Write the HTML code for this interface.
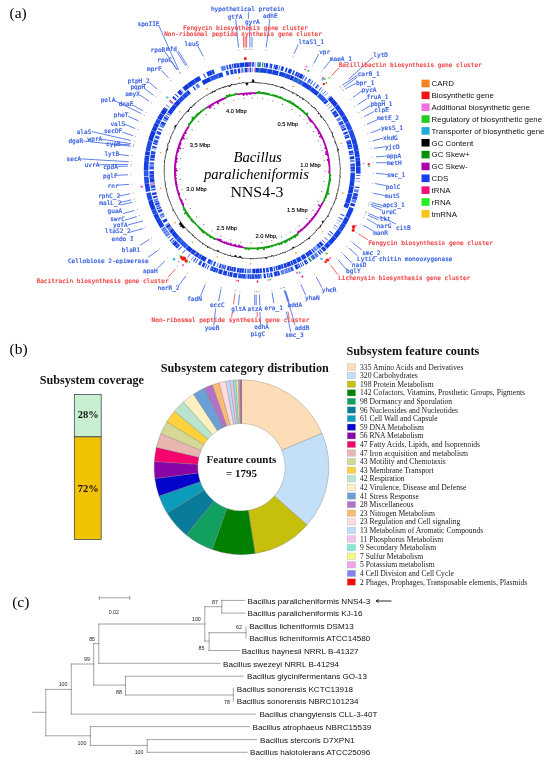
<!DOCTYPE html>
<html lang="en"><head><meta charset="utf-8"><title>Bacillus paralicheniformis NNS4-3 genome figure</title>
<style>
html,body{margin:0;padding:0;background:#fff}
svg{display:block}
.m{font-family:"DejaVu Sans Mono","Liberation Mono",monospace;font-size:6.1px;stroke-width:0.18px}
.s{font-family:"Liberation Sans",sans-serif}
.r{font-family:"Liberation Serif",serif}
.rb{font-family:"Liberation Serif",serif;font-weight:bold}
.ri{font-family:"Liberation Serif",serif;font-style:italic}
</style></head><body>
<svg width="550" height="761" viewBox="0 0 550 761">
<rect width="550" height="761" fill="#fff"/>
<text class="r" x="9.5" y="18" font-size="15.5">(a)</text>
<g>
<path d="M252.20 62.10A108.4 108.4 0 0 1 253.88 62.11L253.80 66.71A103.8 103.8 0 0 0 252.20 66.70Z" fill="#1641e2"/>
<path d="M254.57 62.13A108.4 108.4 0 0 1 255.59 62.15L255.45 66.75A103.8 103.8 0 0 0 254.47 66.72Z" fill="#5d84f2"/>
<path d="M257.18 62.21A108.4 108.4 0 0 1 259.17 62.32L258.87 66.91A103.8 103.8 0 0 0 256.97 66.81Z" fill="#5d84f2"/>
<path d="M259.41 62.34A108.4 108.4 0 0 1 260.80 62.44L260.43 67.03A103.8 103.8 0 0 0 259.11 66.93Z" fill="#1238d8"/>
<path d="M262.48 62.59A108.4 108.4 0 0 1 263.37 62.68L262.90 67.25A103.8 103.8 0 0 0 262.04 67.17Z" fill="#1641e2"/>
<path d="M264.20 62.77A108.4 108.4 0 0 1 265.36 62.90L264.80 67.47A103.8 103.8 0 0 0 263.69 67.34Z" fill="#2a58ea"/>
<path d="M265.98 62.98A108.4 108.4 0 0 1 268.37 63.31L267.68 67.86A103.8 103.8 0 0 0 265.40 67.54Z" fill="#1238d8"/>
<path d="M270.05 63.58A108.4 108.4 0 0 1 271.02 63.75L270.22 68.28A103.8 103.8 0 0 0 269.29 68.12Z" fill="#1238d8"/>
<path d="M271.02 63.75A108.4 108.4 0 0 1 272.64 64.05L271.78 68.56A103.8 103.8 0 0 0 270.22 68.28Z" fill="#1641e2"/>
<path d="M274.21 64.36A108.4 108.4 0 0 1 275.45 64.62L274.46 69.12A103.8 103.8 0 0 0 273.28 68.86Z" fill="#1f4be6"/>
<path d="M275.66 64.67A108.4 108.4 0 0 1 278.42 65.32L277.30 69.78A103.8 103.8 0 0 0 274.67 69.16Z" fill="#1641e2"/>
<path d="M279.36 65.56A108.4 108.4 0 0 1 280.55 65.87L279.34 70.31A103.8 103.8 0 0 0 278.21 70.01Z" fill="#5d84f2"/>
<path d="M281.60 66.16A108.4 108.4 0 0 1 284.14 66.91L282.79 71.31A103.8 103.8 0 0 0 280.35 70.59Z" fill="#1641e2"/>
<path d="M286.02 67.51A108.4 108.4 0 0 1 287.68 68.07L286.17 72.42A103.8 103.8 0 0 0 284.58 71.88Z" fill="#1641e2"/>
<path d="M289.01 68.54A108.4 108.4 0 0 1 292.22 69.76L290.53 74.03A103.8 103.8 0 0 0 287.45 72.87Z" fill="#1641e2"/>
<path d="M293.49 70.27A108.4 108.4 0 0 1 295.00 70.91L293.18 75.13A103.8 103.8 0 0 0 291.74 74.52Z" fill="#1f4be6"/>
<path d="M296.44 71.54A108.4 108.4 0 0 1 298.13 72.31L296.18 76.48A103.8 103.8 0 0 0 294.57 75.74Z" fill="#1641e2"/>
<path d="M298.36 72.42A108.4 108.4 0 0 1 300.30 73.36L298.26 77.48A103.8 103.8 0 0 0 296.40 76.58Z" fill="#1f4be6"/>
<path d="M300.59 73.50A108.4 108.4 0 0 1 303.46 74.98L301.28 79.04A103.8 103.8 0 0 0 298.54 77.62Z" fill="#1238d8"/>
<path d="M303.94 75.24A108.4 108.4 0 0 1 304.94 75.80L302.70 79.81A103.8 103.8 0 0 0 301.74 79.29Z" fill="#2a58ea"/>
<path d="M306.05 76.42A108.4 108.4 0 0 1 307.58 77.32L305.23 81.27A103.8 103.8 0 0 0 303.77 80.41Z" fill="#5d84f2"/>
<path d="M309.48 78.47A108.4 108.4 0 0 1 310.48 79.10L308.01 82.98A103.8 103.8 0 0 0 307.05 82.37Z" fill="#1641e2"/>
<path d="M310.77 79.29A108.4 108.4 0 0 1 311.41 79.70L308.90 83.56A103.8 103.8 0 0 0 308.28 83.16Z" fill="#1238d8"/>
<path d="M312.46 80.39A108.4 108.4 0 0 1 313.38 81.01L310.78 84.81A103.8 103.8 0 0 0 309.90 84.22Z" fill="#2a58ea"/>
<path d="M315.16 82.26A108.4 108.4 0 0 1 315.89 82.79L313.19 86.51A103.8 103.8 0 0 0 312.48 86.00Z" fill="#2a58ea"/>
<path d="M317.70 84.13A108.4 108.4 0 0 1 318.94 85.08L316.11 88.70A103.8 103.8 0 0 0 314.92 87.79Z" fill="#1641e2"/>
<path d="M319.48 85.50A108.4 108.4 0 0 1 319.70 85.68L316.84 89.28A103.8 103.8 0 0 0 316.62 89.11Z" fill="#1641e2"/>
<path d="M321.36 87.03A108.4 108.4 0 0 1 321.98 87.55L319.02 91.07A103.8 103.8 0 0 0 318.43 90.57Z" fill="#1641e2"/>
<path d="M323.36 88.72A108.4 108.4 0 0 1 323.66 88.99L320.63 92.45A103.8 103.8 0 0 0 320.34 92.19Z" fill="#1641e2"/>
<path d="M325.57 90.71A108.4 108.4 0 0 1 326.08 91.17L322.94 94.54A103.8 103.8 0 0 0 322.46 94.09Z" fill="#1f4be6"/>
<path d="M327.52 92.54A108.4 108.4 0 0 1 328.01 93.02L324.79 96.31A103.8 103.8 0 0 0 324.33 95.85Z" fill="#5d84f2"/>
<path d="M330.49 95.53A108.4 108.4 0 0 1 330.83 95.88L327.49 99.05A103.8 103.8 0 0 0 327.17 98.71Z" fill="#1f4be6"/>
<path d="M331.22 96.30A108.4 108.4 0 0 1 334.04 99.42L330.57 102.44A103.8 103.8 0 0 0 327.87 99.44Z" fill="#1238d8"/>
<path d="M334.11 99.49A108.4 108.4 0 0 1 337.86 104.07L334.22 106.89A103.8 103.8 0 0 0 330.63 102.51Z" fill="#1238d8"/>
<path d="M338.07 104.34A108.4 108.4 0 0 1 341.24 108.67L337.46 111.30A103.8 103.8 0 0 0 334.42 107.14Z" fill="#1641e2"/>
<path d="M341.29 108.75A108.4 108.4 0 0 1 345.22 114.85L341.28 117.21A103.8 103.8 0 0 0 337.51 111.37Z" fill="#1641e2"/>
<path d="M345.29 114.96A108.4 108.4 0 0 1 348.85 121.41L344.75 123.50A103.8 103.8 0 0 0 341.34 117.32Z" fill="#1641e2"/>
<path d="M349.00 121.72A108.4 108.4 0 0 1 352.36 129.04L348.11 130.80A103.8 103.8 0 0 0 344.90 123.79Z" fill="#1f4be6"/>
<path d="M352.41 129.17A108.4 108.4 0 0 1 355.53 137.75L351.15 139.14A103.8 103.8 0 0 0 348.16 130.92Z" fill="#1f4be6"/>
<path d="M355.57 137.87A108.4 108.4 0 0 1 357.19 143.51L352.73 144.66A103.8 103.8 0 0 0 351.19 139.26Z" fill="#1641e2"/>
<path d="M357.21 143.60A108.4 108.4 0 0 1 358.70 150.30L354.18 151.16A103.8 103.8 0 0 0 352.75 144.75Z" fill="#1641e2"/>
<path d="M358.73 150.43A108.4 108.4 0 0 1 359.76 156.99L355.19 157.57A103.8 103.8 0 0 0 354.21 151.28Z" fill="#1641e2"/>
<path d="M359.78 157.16A108.4 108.4 0 0 1 360.15 160.66L355.57 161.08A103.8 103.8 0 0 0 355.21 157.73Z" fill="#1641e2"/>
<path d="M360.16 160.76A108.4 108.4 0 0 1 360.52 166.46L355.93 166.63A103.8 103.8 0 0 0 355.58 161.17Z" fill="#1238d8"/>
<path d="M360.53 166.69A108.4 108.4 0 0 1 360.55 173.72L355.95 173.58A103.8 103.8 0 0 0 355.94 166.85Z" fill="#1641e2"/>
<path d="M360.50 175.16A108.4 108.4 0 0 1 360.46 176.05L355.86 175.82A103.8 103.8 0 0 0 355.90 174.97Z" fill="#1641e2"/>
<path d="M360.31 178.39A108.4 108.4 0 0 1 360.25 179.21L355.66 178.84A103.8 103.8 0 0 0 355.72 178.06Z" fill="#2a58ea"/>
<path d="M360.08 181.08A108.4 108.4 0 0 1 360.02 181.70L355.44 181.23A103.8 103.8 0 0 0 355.50 180.63Z" fill="#5d84f2"/>
<path d="M359.32 187.11A108.4 108.4 0 0 1 359.14 188.23L354.60 187.48A103.8 103.8 0 0 0 354.77 186.41Z" fill="#1238d8"/>
<path d="M358.86 189.83A108.4 108.4 0 0 1 358.82 190.07L354.29 189.24A103.8 103.8 0 0 0 354.34 189.01Z" fill="#1238d8"/>
<path d="M358.82 190.07A108.4 108.4 0 0 1 358.31 192.64L353.81 191.70A103.8 103.8 0 0 0 354.29 189.24Z" fill="#5d84f2"/>
<path d="M358.08 193.72A108.4 108.4 0 0 1 357.39 196.67L352.93 195.56A103.8 103.8 0 0 0 353.59 192.74Z" fill="#1641e2"/>
<path d="M357.32 196.98A108.4 108.4 0 0 1 356.48 200.10L352.05 198.85A103.8 103.8 0 0 0 352.85 195.86Z" fill="#1641e2"/>
<path d="M356.42 200.30A108.4 108.4 0 0 1 355.58 203.10L351.19 201.72A103.8 103.8 0 0 0 352.00 199.04Z" fill="#5d84f2"/>
<path d="M355.26 204.11A108.4 108.4 0 0 1 354.34 206.81L350.00 205.27A103.8 103.8 0 0 0 350.88 202.68Z" fill="#1238d8"/>
<path d="M353.74 208.46A108.4 108.4 0 0 1 349.52 218.24L345.39 216.21A103.8 103.8 0 0 0 349.43 206.85Z" fill="#1641e2"/>
<path d="M349.37 218.55A108.4 108.4 0 0 1 345.92 224.97L341.94 222.66A103.8 103.8 0 0 0 345.25 216.51Z" fill="#1641e2"/>
<path d="M345.87 225.05A108.4 108.4 0 0 1 341.58 231.83L337.79 229.22A103.8 103.8 0 0 0 341.90 222.74Z" fill="#1f4be6"/>
<path d="M341.51 231.94A108.4 108.4 0 0 1 336.67 238.44L333.08 235.56A103.8 103.8 0 0 0 337.72 229.33Z" fill="#1641e2"/>
<path d="M336.61 238.51A108.4 108.4 0 0 1 330.92 245.02L327.58 241.86A103.8 103.8 0 0 0 333.03 235.63Z" fill="#1641e2"/>
<path d="M330.69 245.27A108.4 108.4 0 0 1 327.50 248.48L324.31 245.17A103.8 103.8 0 0 0 327.36 242.10Z" fill="#1641e2"/>
<path d="M327.50 248.48A108.4 108.4 0 0 1 326.87 249.08L323.70 245.75A103.8 103.8 0 0 0 324.31 245.17Z" fill="#1641e2"/>
<path d="M326.45 249.48A108.4 108.4 0 0 1 323.97 251.74L320.93 248.29A103.8 103.8 0 0 0 323.29 246.13Z" fill="#1238d8"/>
<path d="M322.99 252.59A108.4 108.4 0 0 1 321.99 253.45L319.02 249.93A103.8 103.8 0 0 0 319.99 249.11Z" fill="#1f4be6"/>
<path d="M321.25 254.06A108.4 108.4 0 0 1 320.12 254.98L317.24 251.40A103.8 103.8 0 0 0 318.32 250.52Z" fill="#1641e2"/>
<path d="M318.97 255.89A108.4 108.4 0 0 1 316.35 257.88L313.63 254.17A103.8 103.8 0 0 0 316.14 252.27Z" fill="#5d84f2"/>
<path d="M315.70 258.35A108.4 108.4 0 0 1 314.06 259.52L311.44 255.74A103.8 103.8 0 0 0 313.01 254.62Z" fill="#2a58ea"/>
<path d="M313.92 259.61A108.4 108.4 0 0 1 313.01 260.24L310.43 256.43A103.8 103.8 0 0 0 311.30 255.83Z" fill="#2a58ea"/>
<path d="M311.35 261.34A108.4 108.4 0 0 1 310.37 261.97L307.90 258.09A103.8 103.8 0 0 0 308.84 257.49Z" fill="#1641e2"/>
<path d="M308.49 263.14A108.4 108.4 0 0 1 307.61 263.67L305.26 259.71A103.8 103.8 0 0 0 306.10 259.21Z" fill="#1641e2"/>
<path d="M307.35 263.82A108.4 108.4 0 0 1 305.64 264.81L303.37 260.81A103.8 103.8 0 0 0 305.01 259.86Z" fill="#1641e2"/>
<path d="M304.37 265.52A108.4 108.4 0 0 1 303.47 266.01L301.30 261.95A103.8 103.8 0 0 0 302.16 261.49Z" fill="#1f4be6"/>
<path d="M302.47 266.54A108.4 108.4 0 0 1 301.75 266.91L299.65 262.82A103.8 103.8 0 0 0 300.33 262.46Z" fill="#1238d8"/>
<path d="M300.80 267.40A108.4 108.4 0 0 1 299.83 267.87L297.81 263.74A103.8 103.8 0 0 0 298.74 263.28Z" fill="#1641e2"/>
<path d="M299.52 268.03A108.4 108.4 0 0 1 298.73 268.40L296.76 264.25A103.8 103.8 0 0 0 297.51 263.89Z" fill="#1f4be6"/>
<path d="M298.57 268.48A108.4 108.4 0 0 1 296.14 269.60L294.27 265.39A103.8 103.8 0 0 0 296.60 264.32Z" fill="#1238d8"/>
<path d="M293.98 270.52A108.4 108.4 0 0 1 291.78 271.42L290.10 267.13A103.8 103.8 0 0 0 292.21 266.28Z" fill="#2a58ea"/>
<path d="M291.63 271.48A108.4 108.4 0 0 1 288.54 272.63L287.00 268.29A103.8 103.8 0 0 0 289.95 267.19Z" fill="#5d84f2"/>
<path d="M288.38 272.69A108.4 108.4 0 0 1 285.36 273.70L283.95 269.32A103.8 103.8 0 0 0 286.84 268.35Z" fill="#5d84f2"/>
<path d="M284.86 273.86A108.4 108.4 0 0 1 281.44 274.88L280.19 270.45A103.8 103.8 0 0 0 283.48 269.48Z" fill="#5d84f2"/>
<path d="M280.23 275.21A108.4 108.4 0 0 1 278.05 275.77L276.95 271.31A103.8 103.8 0 0 0 279.04 270.77Z" fill="#1641e2"/>
<path d="M277.87 275.82A108.4 108.4 0 0 1 274.55 276.57L273.60 272.07A103.8 103.8 0 0 0 276.78 271.35Z" fill="#1641e2"/>
<path d="M272.90 276.91A108.4 108.4 0 0 1 270.76 277.30L269.97 272.77A103.8 103.8 0 0 0 272.02 272.39Z" fill="#1641e2"/>
<path d="M270.02 277.43A108.4 108.4 0 0 1 269.17 277.56L268.45 273.02A103.8 103.8 0 0 0 269.26 272.89Z" fill="#1641e2"/>
<path d="M268.76 277.63A108.4 108.4 0 0 1 267.32 277.84L266.68 273.29A103.8 103.8 0 0 0 268.05 273.08Z" fill="#2a58ea"/>
<path d="M266.02 278.02A108.4 108.4 0 0 1 263.88 278.27L263.38 273.70A103.8 103.8 0 0 0 265.44 273.45Z" fill="#1238d8"/>
<path d="M261.77 278.48A108.4 108.4 0 0 1 260.41 278.59L260.06 274.00A103.8 103.8 0 0 0 261.36 273.89Z" fill="#2a58ea"/>
<path d="M260.06 278.61A108.4 108.4 0 0 1 258.16 278.74L257.90 274.14A103.8 103.8 0 0 0 259.72 274.03Z" fill="#1641e2"/>
<path d="M257.97 278.75A108.4 108.4 0 0 1 254.72 278.87L254.62 274.27A103.8 103.8 0 0 0 257.73 274.15Z" fill="#1f4be6"/>
<path d="M254.42 278.88A108.4 108.4 0 0 1 251.76 278.90L251.78 274.30A103.8 103.8 0 0 0 254.33 274.28Z" fill="#1f4be6"/>
<path d="M251.54 278.90A108.4 108.4 0 0 1 250.02 278.88L250.12 274.28A103.8 103.8 0 0 0 251.57 274.30Z" fill="#1641e2"/>
<path d="M249.64 278.87A108.4 108.4 0 0 1 247.33 278.79L247.54 274.20A103.8 103.8 0 0 0 249.75 274.27Z" fill="#1641e2"/>
<path d="M246.44 278.75A108.4 108.4 0 0 1 245.17 278.67L245.47 274.08A103.8 103.8 0 0 0 246.69 274.15Z" fill="#2a58ea"/>
<path d="M244.96 278.66A108.4 108.4 0 0 1 242.77 278.49L243.17 273.91A103.8 103.8 0 0 0 245.26 274.07Z" fill="#1f4be6"/>
<path d="M242.60 278.47A108.4 108.4 0 0 1 240.87 278.31L241.35 273.73A103.8 103.8 0 0 0 243.01 273.89Z" fill="#1641e2"/>
<path d="M240.87 278.31A108.4 108.4 0 0 1 237.75 277.93L238.37 273.37A103.8 103.8 0 0 0 241.35 273.73Z" fill="#2a58ea"/>
<path d="M236.85 277.81A108.4 108.4 0 0 1 232.81 277.15L233.63 272.63A103.8 103.8 0 0 0 237.51 273.25Z" fill="#1641e2"/>
<path d="M232.05 277.01A108.4 108.4 0 0 1 229.10 276.41L230.08 271.92A103.8 103.8 0 0 0 232.90 272.49Z" fill="#1238d8"/>
<path d="M228.63 276.31A108.4 108.4 0 0 1 227.36 276.02L228.42 271.54A103.8 103.8 0 0 0 229.63 271.82Z" fill="#1238d8"/>
<path d="M226.40 275.79A108.4 108.4 0 0 1 222.62 274.79L223.88 270.36A103.8 103.8 0 0 0 227.50 271.32Z" fill="#1641e2"/>
<path d="M221.70 274.52A108.4 108.4 0 0 1 217.89 273.33L219.35 268.96A103.8 103.8 0 0 0 222.99 270.11Z" fill="#1641e2"/>
<path d="M217.19 273.09A108.4 108.4 0 0 1 215.13 272.36L216.70 268.04A103.8 103.8 0 0 0 218.68 268.74Z" fill="#2a58ea"/>
<path d="M215.13 272.36A108.4 108.4 0 0 1 212.71 271.45L214.39 267.17A103.8 103.8 0 0 0 216.70 268.04Z" fill="#1641e2"/>
<path d="M212.43 271.34A108.4 108.4 0 0 1 210.55 270.58L212.31 266.33A103.8 103.8 0 0 0 214.12 267.06Z" fill="#1641e2"/>
<path d="M210.30 270.47A108.4 108.4 0 0 1 209.59 270.17L211.40 265.94A103.8 103.8 0 0 0 212.07 266.23Z" fill="#1238d8"/>
<path d="M207.72 269.36A108.4 108.4 0 0 1 206.80 268.93L208.72 264.76A103.8 103.8 0 0 0 209.61 265.16Z" fill="#1f4be6"/>
<path d="M205.46 268.31A108.4 108.4 0 0 1 204.59 267.89L206.61 263.75A103.8 103.8 0 0 0 207.45 264.16Z" fill="#1641e2"/>
<path d="M203.76 267.47A108.4 108.4 0 0 1 201.44 266.28L203.60 262.22A103.8 103.8 0 0 0 205.81 263.36Z" fill="#1641e2"/>
<path d="M200.27 265.65A108.4 108.4 0 0 1 197.92 264.33L200.22 260.35A103.8 103.8 0 0 0 202.47 261.61Z" fill="#2a58ea"/>
<path d="M195.94 263.16A108.4 108.4 0 0 1 195.29 262.76L197.70 258.84A103.8 103.8 0 0 0 198.33 259.23Z" fill="#1641e2"/>
<path d="M193.96 261.93A108.4 108.4 0 0 1 193.02 261.32L195.54 257.47A103.8 103.8 0 0 0 196.43 258.05Z" fill="#1641e2"/>
<path d="M191.42 260.26A108.4 108.4 0 0 1 190.98 259.96L193.58 256.16A103.8 103.8 0 0 0 194.00 256.45Z" fill="#1f4be6"/>
<path d="M187.99 257.84A108.4 108.4 0 0 1 187.24 257.28L190.00 253.60A103.8 103.8 0 0 0 190.72 254.13Z" fill="#5d84f2"/>
<path d="M182.81 253.78A108.4 108.4 0 0 1 181.95 253.06L184.94 249.56A103.8 103.8 0 0 0 185.75 250.24Z" fill="#5d84f2"/>
<path d="M178.83 250.29A108.4 108.4 0 0 1 178.11 249.63L181.26 246.27A103.8 103.8 0 0 0 181.94 246.91Z" fill="#1641e2"/>
<path d="M177.07 248.64A108.4 108.4 0 0 1 174.69 246.28L177.98 243.06A103.8 103.8 0 0 0 180.26 245.33Z" fill="#2a58ea"/>
<path d="M174.57 246.16A108.4 108.4 0 0 1 172.19 243.64L175.59 240.54A103.8 103.8 0 0 0 177.86 242.95Z" fill="#1238d8"/>
<path d="M171.75 243.16A108.4 108.4 0 0 1 171.04 242.35L174.48 239.30A103.8 103.8 0 0 0 175.17 240.07Z" fill="#1f4be6"/>
<path d="M170.29 241.50A108.4 108.4 0 0 1 169.50 240.58L173.01 237.61A103.8 103.8 0 0 0 173.76 238.48Z" fill="#1f4be6"/>
<path d="M168.00 238.77A108.4 108.4 0 0 1 167.27 237.87L170.88 235.01A103.8 103.8 0 0 0 171.57 235.87Z" fill="#5d84f2"/>
<path d="M166.60 237.00A108.4 108.4 0 0 1 164.86 234.70L168.56 231.98A103.8 103.8 0 0 0 170.23 234.18Z" fill="#5d84f2"/>
<path d="M164.64 234.41A108.4 108.4 0 0 1 162.99 232.08L166.78 229.47A103.8 103.8 0 0 0 168.36 231.70Z" fill="#5d84f2"/>
<path d="M162.85 231.88A108.4 108.4 0 0 1 160.98 229.06L164.85 226.58A103.8 103.8 0 0 0 166.65 229.28Z" fill="#5d84f2"/>
<path d="M160.47 228.26A108.4 108.4 0 0 1 155.57 219.62L159.67 217.53A103.8 103.8 0 0 0 164.37 225.81Z" fill="#1641e2"/>
<path d="M155.49 219.47A108.4 108.4 0 0 1 153.35 214.99L157.55 213.10A103.8 103.8 0 0 0 159.59 217.39Z" fill="#1641e2"/>
<path d="M153.28 214.84A108.4 108.4 0 0 1 151.54 210.73L155.81 209.03A103.8 103.8 0 0 0 157.48 212.95Z" fill="#1f4be6"/>
<path d="M151.48 210.58A108.4 108.4 0 0 1 148.11 200.78L152.53 199.49A103.8 103.8 0 0 0 155.75 208.88Z" fill="#1238d8"/>
<path d="M148.05 200.56A108.4 108.4 0 0 1 146.22 193.27L150.72 192.31A103.8 103.8 0 0 0 152.47 199.28Z" fill="#1f4be6"/>
<path d="M145.95 191.99A108.4 108.4 0 0 1 144.65 184.02L149.21 183.45A103.8 103.8 0 0 0 150.46 191.08Z" fill="#1641e2"/>
<path d="M144.63 183.89A108.4 108.4 0 0 1 143.99 176.95L148.58 176.68A103.8 103.8 0 0 0 149.20 183.32Z" fill="#1f4be6"/>
<path d="M143.97 176.61A108.4 108.4 0 0 1 143.80 170.24L148.40 170.26A103.8 103.8 0 0 0 148.57 176.35Z" fill="#2a58ea"/>
<path d="M143.80 170.07A108.4 108.4 0 0 1 144.22 160.96L148.80 161.36A103.8 103.8 0 0 0 148.40 170.09Z" fill="#1641e2"/>
<path d="M144.24 160.79A108.4 108.4 0 0 1 144.85 155.43L149.41 156.07A103.8 103.8 0 0 0 148.82 161.20Z" fill="#1641e2"/>
<path d="M144.90 155.09A108.4 108.4 0 0 1 145.59 150.88L150.11 151.72A103.8 103.8 0 0 0 149.45 155.74Z" fill="#1238d8"/>
<path d="M145.61 150.75A108.4 108.4 0 0 1 148.04 140.49L152.46 141.76A103.8 103.8 0 0 0 150.14 151.59Z" fill="#1f4be6"/>
<path d="M148.10 140.27A108.4 108.4 0 0 1 151.53 130.29L155.80 132.00A103.8 103.8 0 0 0 152.52 141.55Z" fill="#1238d8"/>
<path d="M151.62 130.08A108.4 108.4 0 0 1 153.37 125.97L157.56 127.86A103.8 103.8 0 0 0 155.88 131.80Z" fill="#1238d8"/>
<path d="M153.41 125.88A108.4 108.4 0 0 1 154.95 122.61L159.08 124.64A103.8 103.8 0 0 0 157.60 127.77Z" fill="#1238d8"/>
<path d="M155.01 122.49A108.4 108.4 0 0 1 157.11 118.45L161.15 120.66A103.8 103.8 0 0 0 159.13 124.53Z" fill="#1f4be6"/>
<path d="M157.16 118.37A108.4 108.4 0 0 1 160.24 113.11L164.14 115.54A103.8 103.8 0 0 0 161.19 120.58Z" fill="#1641e2"/>
<path d="M160.42 112.82A108.4 108.4 0 0 1 163.59 108.06L167.35 110.71A103.8 103.8 0 0 0 164.32 115.27Z" fill="#1238d8"/>
<path d="M163.64 107.98A108.4 108.4 0 0 1 164.28 107.09L168.01 109.78A103.8 103.8 0 0 0 167.40 110.63Z" fill="#1238d8"/>
<path d="M165.83 105.00A108.4 108.4 0 0 1 166.20 104.51L169.85 107.31A103.8 103.8 0 0 0 169.49 107.78Z" fill="#1f4be6"/>
<path d="M168.82 101.23A108.4 108.4 0 0 1 169.47 100.46L172.98 103.43A103.8 103.8 0 0 0 172.36 104.17Z" fill="#5d84f2"/>
<path d="M172.15 97.41A108.4 108.4 0 0 1 173.49 95.97L176.83 99.13A103.8 103.8 0 0 0 175.55 100.51Z" fill="#1238d8"/>
<path d="M174.85 94.55A108.4 108.4 0 0 1 175.53 93.87L178.79 97.12A103.8 103.8 0 0 0 178.14 97.77Z" fill="#1238d8"/>
<path d="M177.19 92.25A108.4 108.4 0 0 1 179.76 89.86L182.84 93.28A103.8 103.8 0 0 0 180.37 95.57Z" fill="#1238d8"/>
<path d="M179.90 89.73A108.4 108.4 0 0 1 180.70 89.02L183.73 92.48A103.8 103.8 0 0 0 182.97 93.16Z" fill="#5d84f2"/>
<path d="M182.29 87.66A108.4 108.4 0 0 1 182.52 87.46L185.48 90.98A103.8 103.8 0 0 0 185.26 91.17Z" fill="#1641e2"/>
<path d="M182.52 87.46A108.4 108.4 0 0 1 186.76 84.08L189.54 87.75A103.8 103.8 0 0 0 185.48 90.98Z" fill="#1238d8"/>
<path d="M186.87 84.00A108.4 108.4 0 0 1 193.64 79.28L196.12 83.15A103.8 103.8 0 0 0 189.64 87.67Z" fill="#1641e2"/>
<path d="M193.72 79.23A108.4 108.4 0 0 1 199.15 75.97L201.40 79.98A103.8 103.8 0 0 0 196.20 83.10Z" fill="#1641e2"/>
<path d="M202.99 73.91A108.4 108.4 0 0 1 204.00 73.40L206.05 77.53A103.8 103.8 0 0 0 205.08 78.01Z" fill="#1f4be6"/>
<path d="M206.22 72.34A108.4 108.4 0 0 1 210.99 70.24L212.73 74.50A103.8 103.8 0 0 0 208.17 76.50Z" fill="#1641e2"/>
<path d="M211.14 70.18A108.4 108.4 0 0 1 213.35 69.30L215.00 73.59A103.8 103.8 0 0 0 212.89 74.43Z" fill="#1641e2"/>
<path d="M220.51 66.84A108.4 108.4 0 0 1 225.10 65.54L226.25 70.00A103.8 103.8 0 0 0 221.85 71.24Z" fill="#5d84f2"/>
<path d="M225.94 65.33A108.4 108.4 0 0 1 227.76 64.89L228.79 69.37A103.8 103.8 0 0 0 227.05 69.79Z" fill="#2a58ea"/>
<path d="M228.76 64.66A108.4 108.4 0 0 1 230.82 64.23L231.73 68.74A103.8 103.8 0 0 0 229.76 69.16Z" fill="#1641e2"/>
<path d="M231.64 64.07A108.4 108.4 0 0 1 232.88 63.83L233.70 68.36A103.8 103.8 0 0 0 232.51 68.58Z" fill="#1f4be6"/>
<path d="M233.41 63.74A108.4 108.4 0 0 1 236.01 63.32L236.70 67.86A103.8 103.8 0 0 0 234.21 68.27Z" fill="#1641e2"/>
<path d="M236.24 63.28A108.4 108.4 0 0 1 239.26 62.88L239.81 67.44A103.8 103.8 0 0 0 236.92 67.83Z" fill="#1641e2"/>
<path d="M239.67 62.83A108.4 108.4 0 0 1 243.89 62.42L244.24 67.01A103.8 103.8 0 0 0 240.20 67.40Z" fill="#1641e2"/>
<path d="M244.32 62.39A108.4 108.4 0 0 1 248.82 62.15L248.96 66.75A103.8 103.8 0 0 0 244.66 66.97Z" fill="#1238d8"/>
<path d="M249.14 62.14A108.4 108.4 0 0 1 250.99 62.11L251.04 66.71A103.8 103.8 0 0 0 249.27 66.74Z" fill="#1f4be6"/>
<path d="M251.42 62.10A108.4 108.4 0 0 1 252.20 62.10L252.20 66.70A103.8 103.8 0 0 0 251.45 66.70Z" fill="#5d84f2"/>
<path d="M252.20 67.65A102.85 102.85 0 0 1 252.98 67.65L252.95 72.20A98.3 98.3 0 0 0 252.20 72.20Z" fill="#5d84f2"/>
<path d="M254.52 67.68A102.85 102.85 0 0 1 255.79 67.71L255.63 72.26A98.3 98.3 0 0 0 254.42 72.22Z" fill="#5d84f2"/>
<path d="M255.79 67.71A102.85 102.85 0 0 1 259.12 67.88L258.81 72.42A98.3 98.3 0 0 0 255.63 72.26Z" fill="#1641e2"/>
<path d="M259.24 67.89A102.85 102.85 0 0 1 267.16 68.74L266.50 73.25A98.3 98.3 0 0 0 258.93 72.43Z" fill="#1641e2"/>
<path d="M267.48 68.79A102.85 102.85 0 0 1 272.61 69.70L271.71 74.16A98.3 98.3 0 0 0 266.80 73.29Z" fill="#1641e2"/>
<path d="M272.82 69.74A102.85 102.85 0 0 1 278.92 71.18L277.74 75.58A98.3 98.3 0 0 0 271.91 74.20Z" fill="#1641e2"/>
<path d="M279.81 71.42A102.85 102.85 0 0 1 285.62 73.23L284.14 77.53A98.3 98.3 0 0 0 278.58 75.81Z" fill="#1641e2"/>
<path d="M285.70 73.26A102.85 102.85 0 0 1 291.10 75.29L289.37 79.50A98.3 98.3 0 0 0 284.22 77.56Z" fill="#1f4be6"/>
<path d="M291.24 75.35A102.85 102.85 0 0 1 294.37 76.69L292.50 80.84A98.3 98.3 0 0 0 289.52 79.56Z" fill="#1238d8"/>
<path d="M294.57 76.78A102.85 102.85 0 0 1 303.57 81.40L301.30 85.34A98.3 98.3 0 0 0 292.69 80.93Z" fill="#2a58ea"/>
<path d="M303.68 81.46A102.85 102.85 0 0 1 312.03 86.84L309.38 90.54A98.3 98.3 0 0 0 301.40 85.40Z" fill="#1641e2"/>
<path d="M312.10 86.89A102.85 102.85 0 0 1 319.37 92.61L316.40 96.06A98.3 98.3 0 0 0 309.45 90.59Z" fill="#1641e2"/>
<path d="M319.93 93.10A102.85 102.85 0 0 1 326.56 99.45L323.27 102.59A98.3 98.3 0 0 0 316.93 96.52Z" fill="#2a58ea"/>
<path d="M326.62 99.51A102.85 102.85 0 0 1 328.39 101.41L325.02 104.47A98.3 98.3 0 0 0 323.33 102.65Z" fill="#1641e2"/>
<path d="M329.77 102.97A102.85 102.85 0 0 1 330.12 103.37L326.67 106.34A98.3 98.3 0 0 0 326.34 105.96Z" fill="#1641e2"/>
<path d="M331.74 105.30A102.85 102.85 0 0 1 332.22 105.88L328.68 108.74A98.3 98.3 0 0 0 328.22 108.18Z" fill="#5d84f2"/>
<path d="M333.91 108.03A102.85 102.85 0 0 1 334.72 109.11L331.07 111.82A98.3 98.3 0 0 0 330.29 110.79Z" fill="#1f4be6"/>
<path d="M335.48 110.15A102.85 102.85 0 0 1 337.31 112.75L333.54 115.31A98.3 98.3 0 0 0 331.80 112.82Z" fill="#1641e2"/>
<path d="M337.45 112.96A102.85 102.85 0 0 1 338.93 115.23L335.10 117.67A98.3 98.3 0 0 0 333.68 115.51Z" fill="#1238d8"/>
<path d="M339.98 116.91A102.85 102.85 0 0 1 341.53 119.52L337.58 121.78A98.3 98.3 0 0 0 336.10 119.28Z" fill="#5d84f2"/>
<path d="M342.15 120.63A102.85 102.85 0 0 1 342.75 121.73L338.74 123.88A98.3 98.3 0 0 0 338.17 122.84Z" fill="#1641e2"/>
<path d="M342.82 121.86A102.85 102.85 0 0 1 343.84 123.80L339.78 125.87A98.3 98.3 0 0 0 338.81 124.02Z" fill="#1641e2"/>
<path d="M344.14 124.40A102.85 102.85 0 0 1 344.77 125.69L340.68 127.67A98.3 98.3 0 0 0 340.07 126.44Z" fill="#2a58ea"/>
<path d="M344.88 125.91A102.85 102.85 0 0 1 345.39 126.98L341.27 128.91A98.3 98.3 0 0 0 340.78 127.89Z" fill="#2a58ea"/>
<path d="M345.65 127.55A102.85 102.85 0 0 1 346.54 129.53L342.36 131.34A98.3 98.3 0 0 0 341.52 129.45Z" fill="#1641e2"/>
<path d="M347.27 131.26A102.85 102.85 0 0 1 348.11 133.35L343.86 134.99A98.3 98.3 0 0 0 343.07 133.00Z" fill="#1641e2"/>
<path d="M348.50 134.37A102.85 102.85 0 0 1 348.92 135.52L344.64 137.06A98.3 98.3 0 0 0 344.24 135.97Z" fill="#1641e2"/>
<path d="M349.03 135.83A102.85 102.85 0 0 1 349.62 137.52L345.31 138.98A98.3 98.3 0 0 0 344.75 137.37Z" fill="#1641e2"/>
<path d="M350.34 139.72A102.85 102.85 0 0 1 350.63 140.67L346.27 141.99A98.3 98.3 0 0 0 346.00 141.09Z" fill="#1641e2"/>
<path d="M350.67 140.81A102.85 102.85 0 0 1 351.54 143.87L347.15 145.04A98.3 98.3 0 0 0 346.31 142.12Z" fill="#1641e2"/>
<path d="M351.59 144.03A102.85 102.85 0 0 1 352.30 146.89L347.87 147.93A98.3 98.3 0 0 0 347.19 145.20Z" fill="#1641e2"/>
<path d="M352.36 147.13A102.85 102.85 0 0 1 352.67 148.52L348.23 149.49A98.3 98.3 0 0 0 347.93 148.17Z" fill="#1641e2"/>
<path d="M353.06 150.37A102.85 102.85 0 0 1 353.54 152.96L349.06 153.73A98.3 98.3 0 0 0 348.60 151.26Z" fill="#1641e2"/>
<path d="M353.58 153.17A102.85 102.85 0 0 1 353.81 154.56L349.31 155.26A98.3 98.3 0 0 0 349.09 153.94Z" fill="#1641e2"/>
<path d="M354.03 156.08A102.85 102.85 0 0 1 354.40 158.98L349.88 159.49A98.3 98.3 0 0 0 349.53 156.72Z" fill="#1238d8"/>
<path d="M354.53 160.14A102.85 102.85 0 0 1 354.65 161.40L350.11 161.80A98.3 98.3 0 0 0 350.00 160.60Z" fill="#1641e2"/>
<path d="M354.80 163.33A102.85 102.85 0 0 1 354.96 166.18L350.41 166.37A98.3 98.3 0 0 0 350.26 163.64Z" fill="#2a58ea"/>
<path d="M354.97 166.44A102.85 102.85 0 0 1 355.04 169.03L350.49 169.09A98.3 98.3 0 0 0 350.42 166.62Z" fill="#1641e2"/>
<path d="M355.04 169.24A102.85 102.85 0 0 1 355.05 171.48L350.50 171.44A98.3 98.3 0 0 0 350.49 169.30Z" fill="#1641e2"/>
<path d="M355.03 172.55A102.85 102.85 0 0 1 354.99 174.09L350.44 173.93A98.3 98.3 0 0 0 350.48 172.46Z" fill="#1f4be6"/>
<path d="M354.99 174.09A102.85 102.85 0 0 1 354.59 180.19L350.06 179.76A98.3 98.3 0 0 0 350.44 173.93Z" fill="#1641e2"/>
<path d="M354.58 180.28A102.85 102.85 0 0 1 353.78 186.64L349.28 185.93A98.3 98.3 0 0 0 350.05 179.85Z" fill="#1641e2"/>
<path d="M353.76 186.77A102.85 102.85 0 0 1 352.38 193.78L347.95 192.75A98.3 98.3 0 0 0 349.26 186.05Z" fill="#1238d8"/>
<path d="M352.33 193.99A102.85 102.85 0 0 1 349.52 203.77L345.21 202.30A98.3 98.3 0 0 0 347.90 192.95Z" fill="#1641e2"/>
<path d="M349.41 204.08A102.85 102.85 0 0 1 347.76 208.53L343.53 206.85A98.3 98.3 0 0 0 345.11 202.59Z" fill="#1641e2"/>
<path d="M346.87 210.69A102.85 102.85 0 0 1 346.75 210.97L342.57 209.18A98.3 98.3 0 0 0 342.68 208.92Z" fill="#5d84f2"/>
<path d="M344.65 215.56A102.85 102.85 0 0 1 344.20 216.47L340.13 214.44A98.3 98.3 0 0 0 340.56 213.56Z" fill="#2a58ea"/>
<path d="M342.84 219.11A102.85 102.85 0 0 1 342.39 219.93L338.40 217.74A98.3 98.3 0 0 0 338.83 216.96Z" fill="#1641e2"/>
<path d="M341.38 221.73A102.85 102.85 0 0 1 341.00 222.40L337.07 220.10A98.3 98.3 0 0 0 337.44 219.47Z" fill="#5d84f2"/>
<path d="M339.86 224.29A102.85 102.85 0 0 1 339.63 224.67L335.76 222.27A98.3 98.3 0 0 0 335.98 221.91Z" fill="#5d84f2"/>
<path d="M338.00 227.21A102.85 102.85 0 0 1 337.69 227.68L333.91 225.15A98.3 98.3 0 0 0 334.21 224.70Z" fill="#2a58ea"/>
<path d="M336.55 229.35A102.85 102.85 0 0 1 336.31 229.70L332.59 227.08A98.3 98.3 0 0 0 332.82 226.75Z" fill="#5d84f2"/>
<path d="M333.38 233.66A102.85 102.85 0 0 1 332.79 234.40L329.23 231.57A98.3 98.3 0 0 0 329.78 230.86Z" fill="#1238d8"/>
<path d="M331.60 235.88A102.85 102.85 0 0 1 330.99 236.61L327.50 233.69A98.3 98.3 0 0 0 328.08 232.99Z" fill="#2a58ea"/>
<path d="M328.01 240.00A102.85 102.85 0 0 1 327.51 240.55L324.18 237.45A98.3 98.3 0 0 0 324.66 236.93Z" fill="#2a58ea"/>
<path d="M325.35 242.80A102.85 102.85 0 0 1 324.88 243.28L321.66 240.06A98.3 98.3 0 0 0 322.12 239.60Z" fill="#1641e2"/>
<path d="M323.65 244.48A102.85 102.85 0 0 1 321.58 246.42L318.51 243.07A98.3 98.3 0 0 0 320.48 241.21Z" fill="#1238d8"/>
<path d="M321.27 246.71A102.85 102.85 0 0 1 319.23 248.51L316.26 245.06A98.3 98.3 0 0 0 318.21 243.33Z" fill="#1f4be6"/>
<path d="M318.95 248.75A102.85 102.85 0 0 1 317.94 249.60L315.03 246.10A98.3 98.3 0 0 0 316.00 245.29Z" fill="#5d84f2"/>
<path d="M317.54 249.93A102.85 102.85 0 0 1 315.46 251.60L312.66 248.01A98.3 98.3 0 0 0 314.65 246.42Z" fill="#5d84f2"/>
<path d="M314.94 252.00A102.85 102.85 0 0 1 313.71 252.93L310.99 249.28A98.3 98.3 0 0 0 312.16 248.39Z" fill="#1641e2"/>
<path d="M312.90 253.53A102.85 102.85 0 0 1 310.52 255.22L307.94 251.47A98.3 98.3 0 0 0 310.21 249.86Z" fill="#1238d8"/>
<path d="M310.30 255.36A102.85 102.85 0 0 1 307.45 257.25L305.01 253.41A98.3 98.3 0 0 0 307.73 251.61Z" fill="#1641e2"/>
<path d="M306.70 257.73A102.85 102.85 0 0 1 302.70 260.10L300.46 256.14A98.3 98.3 0 0 0 304.29 253.87Z" fill="#1641e2"/>
<path d="M301.96 260.51A102.85 102.85 0 0 1 297.88 262.65L295.86 258.57A98.3 98.3 0 0 0 299.76 256.53Z" fill="#1641e2"/>
<path d="M297.31 262.93A102.85 102.85 0 0 1 293.98 264.48L292.14 260.32A98.3 98.3 0 0 0 295.31 258.84Z" fill="#1641e2"/>
<path d="M293.61 264.64A102.85 102.85 0 0 1 291.79 265.42L290.04 261.23A98.3 98.3 0 0 0 291.78 260.48Z" fill="#1238d8"/>
<path d="M291.33 265.61A102.85 102.85 0 0 1 287.60 267.07L286.04 262.79A98.3 98.3 0 0 0 289.60 261.41Z" fill="#1238d8"/>
<path d="M287.28 267.18A102.85 102.85 0 0 1 284.64 268.10L283.20 263.78A98.3 98.3 0 0 0 285.73 262.90Z" fill="#1238d8"/>
<path d="M283.95 268.33A102.85 102.85 0 0 1 281.83 268.99L280.52 264.63A98.3 98.3 0 0 0 282.54 264.00Z" fill="#1641e2"/>
<path d="M281.59 269.06A102.85 102.85 0 0 1 278.35 269.97L277.20 265.57A98.3 98.3 0 0 0 280.29 264.70Z" fill="#1641e2"/>
<path d="M277.91 270.08A102.85 102.85 0 0 1 276.28 270.49L275.21 266.07A98.3 98.3 0 0 0 276.78 265.68Z" fill="#1641e2"/>
<path d="M275.41 270.70A102.85 102.85 0 0 1 274.19 270.97L273.22 266.53A98.3 98.3 0 0 0 274.39 266.26Z" fill="#1f4be6"/>
<path d="M273.26 271.17A102.85 102.85 0 0 1 270.16 271.77L269.36 267.29A98.3 98.3 0 0 0 272.33 266.72Z" fill="#1641e2"/>
<path d="M269.19 271.94A102.85 102.85 0 0 1 266.23 272.39L265.61 267.88A98.3 98.3 0 0 0 268.44 267.45Z" fill="#2a58ea"/>
<path d="M265.28 272.51A102.85 102.85 0 0 1 263.27 272.75L262.78 268.23A98.3 98.3 0 0 0 264.70 268.00Z" fill="#1238d8"/>
<path d="M262.21 272.86A102.85 102.85 0 0 1 259.95 273.06L259.61 268.52A98.3 98.3 0 0 0 261.76 268.33Z" fill="#1641e2"/>
<path d="M259.67 273.08A102.85 102.85 0 0 1 255.92 273.28L255.76 268.74A98.3 98.3 0 0 0 259.33 268.54Z" fill="#1238d8"/>
<path d="M255.67 273.29A102.85 102.85 0 0 1 252.30 273.35L252.29 268.80A98.3 98.3 0 0 0 255.51 268.74Z" fill="#1238d8"/>
<path d="M251.23 273.35A102.85 102.85 0 0 1 246.94 273.22L247.17 268.67A98.3 98.3 0 0 0 251.28 268.80Z" fill="#5d84f2"/>
<path d="M246.10 273.17A102.85 102.85 0 0 1 244.49 273.06L244.83 268.52A98.3 98.3 0 0 0 246.37 268.63Z" fill="#1f4be6"/>
<path d="M243.74 273.00A102.85 102.85 0 0 1 241.45 272.79L241.92 268.26A98.3 98.3 0 0 0 244.12 268.47Z" fill="#1f4be6"/>
<path d="M241.45 272.79A102.85 102.85 0 0 1 238.99 272.50L239.57 267.99A98.3 98.3 0 0 0 241.92 268.26Z" fill="#1641e2"/>
<path d="M238.77 272.47A102.85 102.85 0 0 1 236.64 272.17L237.33 267.67A98.3 98.3 0 0 0 239.37 267.96Z" fill="#1641e2"/>
<path d="M235.48 271.98A102.85 102.85 0 0 1 233.11 271.56L233.96 267.09A98.3 98.3 0 0 0 236.22 267.49Z" fill="#1641e2"/>
<path d="M232.78 271.50A102.85 102.85 0 0 1 230.88 271.12L231.83 266.67A98.3 98.3 0 0 0 233.64 267.03Z" fill="#1641e2"/>
<path d="M230.60 271.06A102.85 102.85 0 0 1 229.21 270.75L230.22 266.31A98.3 98.3 0 0 0 231.56 266.61Z" fill="#1238d8"/>
<path d="M228.83 270.66A102.85 102.85 0 0 1 226.58 270.11L227.71 265.70A98.3 98.3 0 0 0 229.87 266.23Z" fill="#1238d8"/>
<path d="M225.13 269.72A102.85 102.85 0 0 1 223.79 269.35L225.05 264.98A98.3 98.3 0 0 0 226.33 265.33Z" fill="#1f4be6"/>
<path d="M223.55 269.28A102.85 102.85 0 0 1 222.45 268.95L223.76 264.60A98.3 98.3 0 0 0 224.81 264.91Z" fill="#2a58ea"/>
<path d="M222.18 268.87A102.85 102.85 0 0 1 221.13 268.55L222.51 264.21A98.3 98.3 0 0 0 223.51 264.52Z" fill="#1238d8"/>
<path d="M220.41 268.32A102.85 102.85 0 0 1 218.67 267.73L220.16 263.43A98.3 98.3 0 0 0 221.82 263.99Z" fill="#1641e2"/>
<path d="M217.19 267.21A102.85 102.85 0 0 1 216.40 266.92L217.98 262.65A98.3 98.3 0 0 0 218.74 262.93Z" fill="#2a58ea"/>
<path d="M214.42 266.16A102.85 102.85 0 0 1 212.82 265.51L214.56 261.31A98.3 98.3 0 0 0 216.09 261.93Z" fill="#1641e2"/>
<path d="M211.69 265.04A102.85 102.85 0 0 1 209.92 264.26L211.79 260.11A98.3 98.3 0 0 0 213.49 260.86Z" fill="#5d84f2"/>
<path d="M209.75 264.18A102.85 102.85 0 0 1 206.93 262.85L208.93 258.76A98.3 98.3 0 0 0 211.62 260.03Z" fill="#1641e2"/>
<path d="M204.97 261.87A102.85 102.85 0 0 1 204.55 261.65L206.66 257.61A98.3 98.3 0 0 0 207.06 257.82Z" fill="#1238d8"/>
<path d="M204.55 261.65A102.85 102.85 0 0 1 200.11 259.18L202.41 255.26A98.3 98.3 0 0 0 206.66 257.61Z" fill="#1238d8"/>
<path d="M200.00 259.12A102.85 102.85 0 0 1 197.59 257.66L200.01 253.80A98.3 98.3 0 0 0 202.31 255.20Z" fill="#2a58ea"/>
<path d="M197.46 257.57A102.85 102.85 0 0 1 193.84 255.19L196.42 251.44A98.3 98.3 0 0 0 199.88 253.72Z" fill="#1641e2"/>
<path d="M193.74 255.12A102.85 102.85 0 0 1 190.30 252.63L193.03 249.00A98.3 98.3 0 0 0 196.32 251.37Z" fill="#1641e2"/>
<path d="M190.12 252.50A102.85 102.85 0 0 1 185.63 248.90L188.58 245.43A98.3 98.3 0 0 0 192.87 248.88Z" fill="#1238d8"/>
<path d="M185.39 248.69A102.85 102.85 0 0 1 179.28 243.03L182.51 239.82A98.3 98.3 0 0 0 188.34 245.23Z" fill="#2a58ea"/>
<path d="M179.22 242.97A102.85 102.85 0 0 1 176.06 239.65L179.43 236.59A98.3 98.3 0 0 0 182.45 239.76Z" fill="#1f4be6"/>
<path d="M175.96 239.53A102.85 102.85 0 0 1 170.99 233.61L174.58 230.82A98.3 98.3 0 0 0 179.33 236.47Z" fill="#1641e2"/>
<path d="M170.94 233.54A102.85 102.85 0 0 1 168.99 230.95L172.67 228.28A98.3 98.3 0 0 0 174.53 230.75Z" fill="#1238d8"/>
<path d="M168.99 230.95A102.85 102.85 0 0 1 167.14 228.32L170.90 225.76A98.3 98.3 0 0 0 172.67 228.28Z" fill="#5d84f2"/>
<path d="M167.06 228.20A102.85 102.85 0 0 1 165.71 226.15L169.53 223.69A98.3 98.3 0 0 0 170.82 225.64Z" fill="#1238d8"/>
<path d="M165.62 226.02A102.85 102.85 0 0 1 164.95 224.96L168.81 222.55A98.3 98.3 0 0 0 169.45 223.57Z" fill="#5d84f2"/>
<path d="M163.79 223.05A102.85 102.85 0 0 1 162.26 220.40L166.24 218.19A98.3 98.3 0 0 0 167.70 220.72Z" fill="#1641e2"/>
<path d="M161.23 218.49A102.85 102.85 0 0 1 160.65 217.37L164.70 215.30A98.3 98.3 0 0 0 165.26 216.37Z" fill="#5d84f2"/>
<path d="M160.46 216.99A102.85 102.85 0 0 1 159.25 214.53L163.36 212.58A98.3 98.3 0 0 0 164.52 214.93Z" fill="#5d84f2"/>
<path d="M158.57 213.07A102.85 102.85 0 0 1 157.47 210.55L161.66 208.77A98.3 98.3 0 0 0 162.72 211.19Z" fill="#1f4be6"/>
<path d="M157.17 209.84A102.85 102.85 0 0 1 156.55 208.30L160.78 206.63A98.3 98.3 0 0 0 161.38 208.10Z" fill="#1641e2"/>
<path d="M156.44 208.01A102.85 102.85 0 0 1 155.61 205.83L159.88 204.26A98.3 98.3 0 0 0 160.67 206.35Z" fill="#5d84f2"/>
<path d="M155.50 205.54A102.85 102.85 0 0 1 154.80 203.55L159.11 202.08A98.3 98.3 0 0 0 159.78 203.99Z" fill="#1641e2"/>
<path d="M154.63 203.02A102.85 102.85 0 0 1 154.22 201.78L158.56 200.40A98.3 98.3 0 0 0 158.94 201.58Z" fill="#1641e2"/>
<path d="M154.13 201.48A102.85 102.85 0 0 1 153.51 199.44L157.87 198.16A98.3 98.3 0 0 0 158.47 200.11Z" fill="#5d84f2"/>
<path d="M153.25 198.55A102.85 102.85 0 0 1 152.71 196.58L157.11 195.43A98.3 98.3 0 0 0 157.63 197.31Z" fill="#1641e2"/>
<path d="M152.38 195.30A102.85 102.85 0 0 1 151.85 193.04L156.29 192.05A98.3 98.3 0 0 0 156.80 194.20Z" fill="#1238d8"/>
<path d="M151.38 190.85A102.85 102.85 0 0 1 151.10 189.39L155.57 188.55A98.3 98.3 0 0 0 155.84 189.94Z" fill="#1f4be6"/>
<path d="M150.96 188.62A102.85 102.85 0 0 1 150.44 185.42L154.94 184.76A98.3 98.3 0 0 0 155.44 187.82Z" fill="#2a58ea"/>
<path d="M150.18 183.56A102.85 102.85 0 0 1 150.06 182.57L154.58 182.04A98.3 98.3 0 0 0 154.70 182.98Z" fill="#5d84f2"/>
<path d="M150.02 182.23A102.85 102.85 0 0 1 149.71 179.13L154.25 178.75A98.3 98.3 0 0 0 154.54 181.71Z" fill="#1238d8"/>
<path d="M149.70 178.93A102.85 102.85 0 0 1 149.57 177.20L154.11 176.90A98.3 98.3 0 0 0 154.23 178.56Z" fill="#1238d8"/>
<path d="M149.55 176.96A102.85 102.85 0 0 1 149.42 174.39L153.97 174.21A98.3 98.3 0 0 0 154.09 176.67Z" fill="#1238d8"/>
<path d="M149.41 174.12A102.85 102.85 0 0 1 149.35 171.13L153.90 171.10A98.3 98.3 0 0 0 153.96 173.96Z" fill="#1641e2"/>
<path d="M149.36 169.46A102.85 102.85 0 0 1 149.41 166.89L153.96 167.05A98.3 98.3 0 0 0 153.90 169.51Z" fill="#2a58ea"/>
<path d="M149.42 166.67A102.85 102.85 0 0 1 149.48 165.32L154.02 165.55A98.3 98.3 0 0 0 153.97 166.84Z" fill="#2a58ea"/>
<path d="M149.52 164.58A102.85 102.85 0 0 1 149.68 162.21L154.22 162.57A98.3 98.3 0 0 0 154.06 164.84Z" fill="#2a58ea"/>
<path d="M149.84 160.43A102.85 102.85 0 0 1 150.07 158.32L154.59 158.85A98.3 98.3 0 0 0 154.37 160.87Z" fill="#1641e2"/>
<path d="M150.16 157.64A102.85 102.85 0 0 1 150.62 154.39L155.11 155.10A98.3 98.3 0 0 0 154.67 158.21Z" fill="#1641e2"/>
<path d="M150.67 154.11A102.85 102.85 0 0 1 151.26 150.79L155.72 151.66A98.3 98.3 0 0 0 155.16 154.83Z" fill="#1f4be6"/>
<path d="M151.64 148.90A102.85 102.85 0 0 1 151.86 147.91L156.30 148.91A98.3 98.3 0 0 0 156.09 149.86Z" fill="#5d84f2"/>
<path d="M151.93 147.59A102.85 102.85 0 0 1 152.35 145.84L156.77 146.93A98.3 98.3 0 0 0 156.37 148.60Z" fill="#1238d8"/>
<path d="M152.83 143.98A102.85 102.85 0 0 1 153.23 142.52L157.61 143.76A98.3 98.3 0 0 0 157.22 145.16Z" fill="#1641e2"/>
<path d="M153.31 142.23A102.85 102.85 0 0 1 154.23 139.20L158.56 140.59A98.3 98.3 0 0 0 157.69 143.48Z" fill="#2a58ea"/>
<path d="M154.60 138.05A102.85 102.85 0 0 1 155.59 135.23L159.86 136.79A98.3 98.3 0 0 0 158.92 139.49Z" fill="#2a58ea"/>
<path d="M156.18 133.65A102.85 102.85 0 0 1 157.30 130.86L161.50 132.61A98.3 98.3 0 0 0 160.42 135.28Z" fill="#1f4be6"/>
<path d="M157.97 129.29A102.85 102.85 0 0 1 158.54 128.00L162.69 129.88A98.3 98.3 0 0 0 162.13 131.12Z" fill="#1641e2"/>
<path d="M159.28 126.42A102.85 102.85 0 0 1 160.44 124.05L164.50 126.10A98.3 98.3 0 0 0 163.39 128.37Z" fill="#5d84f2"/>
<path d="M160.54 123.84A102.85 102.85 0 0 1 161.96 121.16L165.95 123.34A98.3 98.3 0 0 0 164.60 125.90Z" fill="#1641e2"/>
<path d="M162.63 119.95A102.85 102.85 0 0 1 163.43 118.56L167.35 120.86A98.3 98.3 0 0 0 166.59 122.19Z" fill="#5d84f2"/>
<path d="M163.62 118.24A102.85 102.85 0 0 1 164.75 116.37L168.62 118.76A98.3 98.3 0 0 0 167.54 120.55Z" fill="#1641e2"/>
<path d="M165.11 115.79A102.85 102.85 0 0 1 165.64 114.96L169.47 117.42A98.3 98.3 0 0 0 168.96 118.21Z" fill="#2a58ea"/>
<path d="M166.45 113.71A102.85 102.85 0 0 1 166.87 113.07L170.65 115.61A98.3 98.3 0 0 0 170.25 116.22Z" fill="#1641e2"/>
<path d="M167.34 112.39A102.85 102.85 0 0 1 173.60 104.16L177.08 107.10A98.3 98.3 0 0 0 171.09 114.96Z" fill="#1641e2"/>
<path d="M173.69 104.07A102.85 102.85 0 0 1 177.60 99.70L180.90 102.83A98.3 98.3 0 0 0 177.16 107.00Z" fill="#1238d8"/>
<path d="M177.66 99.63A102.85 102.85 0 0 1 181.60 95.71L184.72 99.02A98.3 98.3 0 0 0 180.96 102.77Z" fill="#1f4be6"/>
<path d="M181.67 95.65A102.85 102.85 0 0 1 186.09 91.71L189.01 95.20A98.3 98.3 0 0 0 184.79 98.96Z" fill="#1f4be6"/>
<path d="M186.16 91.65A102.85 102.85 0 0 1 188.17 90.01L191.01 93.57A98.3 98.3 0 0 0 189.08 95.14Z" fill="#1641e2"/>
<path d="M192.47 86.77A102.85 102.85 0 0 1 193.56 86.01L196.15 89.75A98.3 98.3 0 0 0 195.12 90.47Z" fill="#1238d8"/>
<path d="M195.06 84.98A102.85 102.85 0 0 1 197.92 83.14L200.32 87.01A98.3 98.3 0 0 0 197.59 88.76Z" fill="#5d84f2"/>
<path d="M201.55 80.98A102.85 102.85 0 0 1 209.54 76.91L211.43 81.05A98.3 98.3 0 0 0 203.79 84.94Z" fill="#1238d8"/>
<path d="M209.65 76.86A102.85 102.85 0 0 1 217.54 73.66L219.08 77.95A98.3 98.3 0 0 0 211.54 81.00Z" fill="#2a58ea"/>
<path d="M217.66 73.62A102.85 102.85 0 0 1 222.13 72.14L223.46 76.50A98.3 98.3 0 0 0 219.19 77.91Z" fill="#1641e2"/>
<path d="M225.58 71.15A102.85 102.85 0 0 1 228.26 70.48L229.32 74.90A98.3 98.3 0 0 0 226.76 75.55Z" fill="#1f4be6"/>
<path d="M229.86 70.11A102.85 102.85 0 0 1 232.81 69.50L233.66 73.96A98.3 98.3 0 0 0 230.85 74.55Z" fill="#1641e2"/>
<path d="M233.68 69.33A102.85 102.85 0 0 1 236.19 68.90L236.90 73.40A98.3 98.3 0 0 0 234.50 73.81Z" fill="#1641e2"/>
<path d="M237.48 68.71A102.85 102.85 0 0 1 239.94 68.38L240.48 72.90A98.3 98.3 0 0 0 238.13 73.21Z" fill="#1238d8"/>
<path d="M240.93 68.27A102.85 102.85 0 0 1 243.41 68.03L243.80 72.56A98.3 98.3 0 0 0 241.42 72.79Z" fill="#5d84f2"/>
<path d="M244.48 67.94A102.85 102.85 0 0 1 247.42 67.76L247.63 72.31A98.3 98.3 0 0 0 244.82 72.48Z" fill="#1641e2"/>
<path d="M249.57 67.68A102.85 102.85 0 0 1 251.21 67.65L251.26 72.20A98.3 98.3 0 0 0 249.68 72.23Z" fill="#1641e2"/>
</g>
<path d="M258.25 62.27A108.4 108.4 0 0 1 259.20 62.33L258.90 66.92A103.8 103.8 0 0 0 257.99 66.86Z" fill="#22cc22"/>
<path d="M262.59 62.60A108.4 108.4 0 0 1 263.34 62.67L262.87 67.25A103.8 103.8 0 0 0 262.15 67.18Z" fill="#22cc22"/>
<path d="M254.89 67.69A102.85 102.85 0 0 1 255.61 67.71L255.46 72.25A98.3 98.3 0 0 0 254.77 72.23Z" fill="#ee1177"/>
<path d="M259.73 67.93A102.85 102.85 0 0 1 260.45 67.98L260.08 72.52A98.3 98.3 0 0 0 259.40 72.46Z" fill="#22cc22"/>
<path d="M249.55 62.13A108.4 108.4 0 0 1 250.31 62.12L250.39 66.72A103.8 103.8 0 0 0 249.66 66.73Z" fill="#ee1177"/>
<path d="M247.71 67.75A102.85 102.85 0 0 1 248.43 67.72L248.60 72.27A98.3 98.3 0 0 0 247.91 72.29Z" fill="#ee1177"/>
<path d="M169.53 100.39A108.4 108.4 0 0 1 170.14 99.67L173.62 102.67A103.8 103.8 0 0 0 173.04 103.36Z" fill="#ee1177"/>
<path d="M150.35 184.81A102.85 102.85 0 0 1 150.23 183.92L154.74 183.33A98.3 98.3 0 0 0 154.86 184.18Z" fill="#ee1177"/>
<path d="M312.03 260.89A108.4 108.4 0 0 1 311.08 261.51L308.58 257.65A103.8 103.8 0 0 0 309.49 257.06Z" fill="#22cc22"/>
<path d="M298.89 78.86A102.85 102.85 0 0 1 299.69 79.27L297.59 83.31A98.3 98.3 0 0 0 296.83 82.91Z" fill="#22cc22"/>
<path d="M252.20 80.10L253.00 78.90L253.78 80.11L254.52 81.98L255.29 82.09L256.04 82.58L256.81 82.62L257.57 82.66L258.35 82.57L259.10 82.77L259.87 82.83L260.63 82.91L261.40 82.98L262.16 83.07L262.92 83.16L263.69 83.25L264.45 83.36L265.21 83.45L266.06 82.98L266.73 83.68L267.48 83.84L268.24 83.97L269.01 84.00L269.74 84.27L270.59 84.00L271.26 84.51L272.00 84.76L272.93 84.16L273.51 85.05L274.23 85.30L274.98 85.50L275.86 85.18L276.46 85.91L277.19 86.12L277.93 86.35L278.72 86.39L279.44 86.66L280.12 87.05L280.85 87.29L281.84 86.79L282.71 86.68L283.30 87.32L283.74 88.34L284.45 88.62L285.28 88.63L285.88 89.20L286.67 89.30L287.29 89.79L287.99 90.11L288.69 90.42L289.39 90.74L290.08 91.07L290.78 91.41L291.47 91.75L292.16 92.08L292.83 92.44L293.51 92.80L294.19 93.16L294.86 93.53L295.53 93.91L296.20 94.29L297.02 94.41L297.52 95.07L298.25 95.35L298.83 95.87L299.48 96.28L300.13 96.70L300.77 97.12L301.44 97.50L302.04 97.98L302.88 98.12L303.30 98.86L304.01 99.19L304.54 99.76L305.16 100.22L306.02 100.36L306.54 100.94L306.98 101.63L307.79 101.85L308.45 102.27L308.77 103.09L309.36 103.58L309.98 104.03L310.53 104.57L311.08 105.10L311.65 105.62L312.22 106.14L312.78 106.67L313.33 107.20L314.38 107.23L314.72 107.98L315.48 108.31L315.71 109.16L316.39 109.58L316.56 110.48L317.14 111.00L317.60 111.62L318.44 111.90L318.61 112.77L319.12 113.35L319.61 113.93L320.35 114.32L320.59 115.12L321.07 115.72L321.54 116.32L322.02 116.93L322.48 117.54L322.94 118.16L323.63 118.60L323.84 119.40L324.29 120.03L325.23 120.31L325.37 121.15L325.58 121.93L326.06 122.54L326.42 123.22L326.87 123.84L327.60 124.29L327.69 125.14L328.23 125.72L328.41 126.50L328.82 127.15L329.21 127.81L329.90 128.31L329.90 129.19L330.26 129.87L330.67 130.52L331.12 131.15L331.29 131.92L331.63 132.62L332.91 132.86L332.55 133.88L332.59 134.71L332.90 135.41L333.20 136.12L333.80 136.70L333.79 137.53L334.08 138.25L334.36 138.96L334.76 139.63L334.89 140.40L335.15 141.12L335.41 141.85L335.65 142.58L335.89 143.31L336.32 143.98L336.35 144.77L336.58 145.51L336.79 146.24L337.40 146.87L337.20 147.72L337.40 148.47L338.53 148.98L339.10 149.64L337.94 150.70L338.26 151.42L338.28 152.20L338.43 152.96L338.58 153.71L338.76 154.46L338.86 155.22L338.99 155.98L339.12 156.73L339.46 157.46L339.34 158.25L339.65 158.99L339.54 159.78L339.77 160.52L339.78 161.29L339.79 162.07L339.87 162.83L339.93 163.60L339.99 164.36L340.08 165.13L340.08 165.89L340.33 166.65L340.15 167.43L340.62 168.18L340.45 168.96L340.20 169.73L340.20 170.50L340.27 171.27L340.27 172.04L340.17 172.80L340.15 173.57L340.14 174.34L340.25 175.11L340.04 175.87L340.38 176.67L340.29 177.43L339.87 178.17L340.03 178.96L339.72 179.70L339.73 180.47L339.82 181.26L339.80 182.03L339.34 182.75L339.23 183.51L339.12 184.27L339.28 185.07L338.86 185.78L338.92 186.57L338.61 187.30L338.63 188.08L338.67 188.88L338.11 189.55L338.25 190.37L338.12 191.13L337.59 191.79L337.44 192.54L337.57 193.38L337.00 194.02L336.79 194.76L337.01 195.62L336.35 196.23L336.41 197.05L335.90 197.69L336.74 198.79L335.58 199.21L335.15 199.88L335.15 200.69L334.75 201.36L334.80 202.21L334.08 202.75L333.99 203.55L333.50 204.18L333.20 204.88L332.92 205.60L332.60 206.30L332.40 207.05L331.96 207.69L331.63 208.38L331.51 209.18L330.95 209.77L330.61 210.45L330.35 211.18L329.90 211.81L329.85 212.66L329.28 213.22L328.88 213.88L328.44 214.52L328.22 215.28L328.67 216.45L327.63 216.73L326.83 217.13L326.42 217.78L326.00 218.43L325.79 219.21L325.34 219.84L324.72 220.34L324.29 220.97L323.84 221.60L323.39 222.23L322.94 222.84L322.60 223.55L322.02 224.08L321.66 224.77L321.42 225.56L320.59 225.88L320.62 226.90L320.27 227.61L319.12 227.65L318.61 228.23L318.11 228.81L317.62 229.40L317.08 229.95L316.56 230.52L316.05 231.09L315.73 231.85L315.18 232.39L314.43 232.73L314.13 233.52L313.41 233.89L312.86 234.42L312.22 234.86L311.81 235.55L311.24 236.07L310.51 236.41L310.03 237.03L309.96 238.13L309.67 238.98L308.77 239.12L307.62 238.94L307.22 239.66L306.56 240.08L305.78 240.33L305.16 240.78L304.54 241.24L303.93 241.69L303.61 242.57L302.81 242.78L302.04 243.02L301.41 243.46L300.88 244.04L300.40 244.73L299.48 244.72L298.83 245.13L298.38 245.86L297.61 246.07L296.86 246.32L296.21 246.73L295.53 247.09L294.93 247.59L294.19 247.84L293.51 248.20L292.83 248.56L292.29 249.18L291.47 249.25L290.78 249.59L290.14 250.05L289.39 250.26L288.69 250.58L288.08 251.09L287.29 251.20L286.58 251.50L285.94 251.96L285.39 252.66L284.59 252.73L283.89 253.05L283.02 252.93L282.31 253.23L281.58 253.45L280.85 253.71L280.13 253.96L279.51 254.56L278.66 254.43L277.93 254.65L277.25 255.06L276.58 255.53L275.72 255.30L274.98 255.50L274.29 255.92L273.63 256.47L272.74 256.07L272.00 256.24L271.25 256.41L270.51 256.65L269.74 256.73L269.02 257.06L268.24 257.03L267.48 257.16L266.88 258.21L266.19 258.80L265.35 258.46L264.45 257.64L263.69 257.75L262.92 257.84L262.16 257.93L261.43 258.33L260.64 258.18L259.87 258.17L259.10 258.23L258.34 258.29L257.57 258.34L256.81 258.38L256.04 258.42L255.29 258.86L254.50 258.47L253.74 258.79L252.97 258.95L252.20 258.69L251.43 258.84L250.65 259.37L249.90 258.47L249.13 258.45L248.36 258.50L247.59 258.49L246.83 258.34L246.05 258.51L245.29 258.26L244.52 258.27L243.76 258.12L242.98 258.25L242.13 258.91L241.48 257.84L240.71 257.75L239.95 257.64L239.19 257.53L238.43 257.42L237.58 257.89L236.92 257.17L236.16 257.03L235.41 256.88L234.66 256.73L233.90 256.58L233.15 256.41L232.31 256.66L231.56 256.48L230.89 255.98L230.17 255.70L229.35 255.77L228.57 255.70L227.92 255.17L227.21 254.88L226.45 254.72L225.74 254.43L225.01 254.19L224.10 254.49L223.55 253.71L222.82 253.45L222.10 253.19L221.38 252.93L220.66 252.66L219.88 252.54L219.19 252.20L218.52 251.80L217.82 251.50L217.11 251.20L216.41 250.89L215.71 250.58L214.89 250.51L214.07 250.43L213.48 249.88L212.82 249.49L212.25 248.91L211.51 248.66L210.72 248.51L210.04 248.15L209.31 247.87L208.87 247.09L207.53 247.87L207.05 247.14L206.79 246.08L206.22 245.53L205.29 245.58L204.67 245.11L204.22 244.38L203.62 243.90L202.33 244.43L202.19 243.27L201.73 242.59L201.10 242.14L200.22 242.04L199.86 241.24L198.99 241.11L198.42 240.59L197.84 240.08L197.42 239.37L196.82 238.89L196.23 238.40L195.63 237.91L194.67 237.86L194.18 237.25L193.89 236.41L193.32 235.90L192.32 235.85L192.18 234.86L191.62 234.33L191.07 233.80L190.52 233.27L189.75 232.95L189.43 232.18L188.49 232.03L188.37 231.08L187.63 230.71L186.97 230.27L186.66 229.51L186.29 228.81L185.79 228.23L185.28 227.65L183.46 228.18L182.29 228.13L182.46 226.97L181.56 226.69L180.18 226.77L180.59 225.45L180.32 224.66L179.05 224.63L179.39 223.40L180.56 221.60L179.81 221.19L179.65 220.36L179.24 219.71L178.70 219.15L178.24 218.53L177.73 217.94L177.57 217.13L177.17 216.48L176.77 215.82L176.34 215.19L175.99 214.50L175.21 214.06L175.18 213.19L174.86 212.49L174.50 211.81L173.76 211.33L173.79 210.45L172.28 210.35L173.11 209.08L172.60 208.47L172.29 207.76L172.12 206.99L171.81 206.29L171.50 205.59L171.20 204.88L170.64 204.28L170.50 203.51L170.32 202.75L170.04 202.04L169.77 201.32L169.18 200.72L169.25 199.88L168.99 199.15L168.37 198.55L168.34 197.75L167.99 197.05L167.73 196.33L167.74 195.52L167.02 194.93L167.39 194.02L167.20 193.28L166.89 192.56L166.81 191.79L166.50 191.08L166.14 190.37L166.29 189.55L166.12 188.80L165.83 188.07L165.58 187.34L165.53 186.56L165.01 185.87L165.41 185.02L165.28 184.27L165.17 183.51L165.06 182.75L164.95 181.99L164.86 181.22L164.71 180.47L164.63 179.70L164.61 178.93L164.53 178.17L164.43 177.41L164.41 176.64L164.36 175.87L164.32 175.11L164.19 174.34L164.25 173.57L164.23 172.80L163.89 172.04L163.98 171.27L164.20 170.50L164.20 169.73L164.21 168.96L164.23 168.20L163.95 167.42L164.13 166.65L164.32 165.89L164.36 165.13L164.41 164.36L164.47 163.60L164.15 162.80L163.89 162.00L164.32 161.26L164.35 160.49L164.86 159.78L164.91 159.01L165.06 158.25L164.69 157.42L165.28 156.73L165.41 155.98L165.41 155.20L165.67 154.46L165.78 153.70L165.97 152.96L166.12 152.20L165.92 151.37L166.05 150.61L166.63 149.96L166.81 149.21L167.00 148.47L167.20 147.72L167.20 146.93L167.61 146.24L167.82 145.51L167.63 144.64L167.70 143.86L168.30 143.24L168.75 142.58L168.98 141.84L169.25 141.12L169.51 140.40L169.77 139.68L170.04 138.96L170.32 138.25L170.16 137.35L170.90 136.82L170.85 135.97L171.50 135.41L171.81 134.71L171.98 133.94L172.25 133.22L172.77 132.62L172.88 131.81L173.45 131.23L173.76 130.53L173.93 129.76L174.50 129.19L174.86 128.51L174.44 127.40L174.68 126.64L174.60 125.70L175.46 125.30L176.67 125.12L177.17 124.52L177.57 123.87L177.98 123.22L178.36 122.55L178.34 121.62L179.01 121.13L179.68 120.66L180.10 120.01L180.03 119.02L181.01 118.77L181.46 118.16L181.92 117.54L182.38 116.93L182.76 116.24L183.19 115.61L183.81 115.12L184.16 114.41L184.79 113.93L185.28 113.35L185.79 112.77L186.29 112.19L186.60 111.44L187.32 111.05L187.84 110.48L188.37 109.92L188.90 109.37L189.43 108.82L189.76 108.06L190.09 107.30L191.07 107.20L191.62 106.67L192.18 106.14L192.75 105.62L193.32 105.10L193.89 104.59L194.31 103.91L195.05 103.58L195.54 102.97L195.99 102.31L196.70 101.96L197.42 101.63L198.02 101.16L198.63 100.68L199.05 99.97L199.79 99.67L200.47 99.31L200.91 98.60L201.73 98.41L202.35 97.97L202.93 97.45L203.63 97.12L204.27 96.70L204.85 96.18L205.56 95.86L206.22 95.47L206.88 95.07L207.54 94.68L208.20 94.29L208.87 93.91L209.54 93.53L210.21 93.16L210.83 92.69L211.57 92.44L212.25 92.09L212.55 90.98L213.48 91.12L214.32 91.07L215.01 90.74L215.49 89.95L216.29 89.84L217.00 89.54L217.82 89.50L218.36 88.80L219.07 88.51L219.95 88.62L220.66 88.34L221.24 87.69L222.05 87.65L222.60 86.90L223.55 87.29L224.10 86.53L225.01 86.81L225.63 86.22L226.47 86.35L227.10 85.75L227.93 85.87L228.68 85.70L229.42 85.50L230.17 85.30L230.91 85.11L231.43 83.98L232.32 84.41L233.04 84.07L233.90 84.42L234.66 84.27L235.41 84.12L236.15 83.91L236.92 83.84L237.68 83.71L238.41 83.42L239.10 82.83L239.93 83.23L240.71 83.25L241.48 83.16L242.23 83.00L242.93 82.28L243.76 82.86L244.52 82.68L245.29 82.66L246.06 82.71L246.83 82.66L247.59 82.62L248.36 82.58L249.13 82.55L249.90 82.53L250.65 81.67L251.43 82.44L252.20 81.68L252.20 82.50L251.43 82.50L250.66 82.51L249.90 82.61L249.13 82.59L248.36 82.59L247.70 84.62L247.01 85.66L246.20 84.71L245.30 82.77L244.53 82.83L243.77 82.91L243.00 82.98L242.24 83.07L241.48 83.18L240.73 83.41L239.95 83.36L239.19 83.47L238.43 83.58L237.71 83.91L236.97 84.12L236.16 83.97L235.54 84.78L234.77 84.85L233.90 84.42L233.15 84.59L232.40 84.76L231.66 84.93L230.99 85.41L230.40 86.21L229.79 86.85L228.93 86.60L227.94 85.91L227.21 86.12L226.65 86.92L225.74 86.57L225.17 87.30L224.28 87.05L223.82 88.09L222.82 87.55L222.10 87.81L221.38 88.07L220.77 88.62L220.12 89.05L219.23 88.91L218.52 89.20L217.83 89.52L217.11 89.80L216.41 90.11L215.71 90.42L215.32 91.40L214.67 91.81L213.62 91.41L212.93 91.75L212.59 92.76L211.97 93.22L210.89 92.80L210.46 93.63L209.60 93.65L208.95 94.06L208.32 94.49L207.59 94.77L207.09 95.42L206.29 95.59L205.57 95.87L204.92 96.28L204.31 96.75L203.63 97.13L202.99 97.54L202.36 97.98L201.75 98.46L201.10 98.86L200.59 99.46L199.86 99.76L199.24 100.22L198.79 100.89L198.14 101.31L197.48 101.71L196.82 102.11L196.23 102.60L195.63 103.09L195.44 104.05L194.47 104.09L194.43 105.20L193.37 105.16L193.01 105.90L192.53 106.51L191.74 106.79L191.79 107.95L190.52 107.73L189.97 108.27L189.94 109.32L188.99 109.46L189.14 110.66L189.01 111.58L188.11 111.77L186.80 111.62L186.45 112.33L186.10 113.04L185.35 113.41L184.90 114.03L184.30 114.53L184.02 115.29L183.33 115.72L182.86 116.32L182.40 116.94L182.46 117.95L181.83 118.43L181.12 118.85L180.56 119.40L180.11 120.03L179.73 120.69L179.24 121.29L178.82 121.93L178.40 122.57L178.04 123.25L177.68 123.94L177.24 124.56L176.77 125.18L176.38 125.84L175.99 126.50L175.61 127.17L175.23 127.84L175.20 128.69L174.81 129.35L174.14 129.87L173.79 130.55L173.54 131.28L173.11 131.92L173.19 132.82L172.44 133.31L172.12 134.01L171.87 134.73L171.59 135.45L171.20 136.12L170.99 136.86L170.61 137.53L170.62 138.36L170.36 139.08L169.77 139.68L169.58 140.43L170.28 141.49L168.99 141.85L169.09 142.69L168.51 143.31L168.27 144.04L168.05 144.77L167.90 145.53L168.42 146.48L167.40 146.98L167.20 147.73L167.84 148.68L168.08 149.53L167.47 150.16L166.46 150.70L166.29 151.45L166.48 152.28L166.44 153.05L165.82 153.71L165.81 154.49L165.54 155.22L165.85 156.05L165.75 156.81L165.17 157.49L165.21 158.27L164.95 159.01L164.89 159.78L164.77 160.54L164.68 161.30L164.61 162.07L164.53 162.83L164.62 163.61L164.44 164.36L164.89 165.16L164.44 165.90L164.28 166.66L164.25 167.43L164.27 168.20L164.64 168.97L164.28 169.73L164.42 170.50L164.20 171.27L164.21 172.04L164.28 172.80L164.40 173.57L164.28 174.34L164.45 175.10L164.53 175.86L164.70 176.62L164.47 177.40L164.66 178.16L164.66 178.93L164.68 179.70L164.77 180.46L165.31 181.17L165.12 181.96L165.26 182.72L165.56 183.45L165.70 184.20L165.75 184.97L165.54 185.78L165.67 186.54L165.82 187.29L165.97 188.04L166.50 188.72L166.89 189.41L166.46 190.30L166.63 191.04L167.06 191.73L167.00 192.53L167.42 193.22L167.40 194.02L167.61 194.76L167.82 195.49L168.05 196.23L168.27 196.96L168.51 197.69L168.75 198.42L169.12 199.11L169.37 199.83L169.51 200.60L170.17 201.17L170.43 201.89L170.52 202.68L170.61 203.47L170.90 204.18L171.32 204.83L171.76 205.48L171.82 206.29L172.20 206.96L172.44 207.69L172.77 208.38L173.16 209.05L173.45 209.77L173.86 210.42L174.14 211.13L174.59 211.77L175.11 212.36L175.23 213.16L175.61 213.83L176.03 214.48L176.38 215.16L177.22 215.55L177.20 216.46L177.65 217.08L177.98 217.78L178.40 218.43L178.82 219.07L179.29 219.68L179.68 220.34L180.11 220.97L180.78 221.44L181.01 222.23L181.46 222.84L181.92 223.46L182.38 224.07L182.86 224.68L183.33 225.28L183.81 225.88L184.30 226.47L184.79 227.07L185.38 227.57L185.87 228.16L186.32 228.78L186.80 229.38L187.32 229.95L187.84 230.52L188.50 230.95L188.90 231.63L189.76 231.86L189.97 232.73L190.54 233.25L191.40 233.46L191.63 234.33L192.52 234.50L192.75 235.38L193.62 235.56L193.89 236.40L194.47 236.91L195.05 237.42L195.89 237.61L196.28 238.34L196.84 238.86L197.61 239.13L198.02 239.84L198.63 240.32L199.24 240.78L199.98 241.07L200.47 241.69L201.15 242.07L201.85 242.41L202.36 243.02L202.99 243.46L203.63 243.88L204.27 244.30L204.92 244.72L205.57 245.13L206.35 245.32L206.88 245.93L207.54 246.32L208.20 246.71L209.01 246.83L209.54 247.47L210.21 247.84L210.89 248.20L211.57 248.56L212.26 248.88L212.93 249.25L213.62 249.59L214.32 249.93L215.01 250.26L215.75 250.47L216.51 250.66L217.48 250.35L218.36 250.22L218.88 250.94L219.23 252.09L219.95 252.38L220.72 252.50L221.47 252.70L222.13 253.13L222.83 253.45L223.62 253.49L224.28 253.95L225.18 253.64L225.79 254.26L226.47 254.65L227.25 254.74L227.94 255.09L228.68 255.30L229.42 255.50L230.42 254.72L230.91 255.89L231.66 256.07L232.40 256.24L233.17 256.35L233.97 256.27L234.92 255.43L235.79 254.92L236.41 255.72L236.92 257.16L237.68 257.29L238.47 257.18L239.37 256.35L240.20 255.86L240.87 256.56L241.55 257.20L242.24 257.93L243.00 258.02L243.77 258.09L244.53 258.17L245.30 258.23L246.06 258.29L246.83 258.30L247.59 258.38L248.36 258.42L249.13 258.43L249.90 258.36L250.66 258.49L251.43 258.50L252.20 258.50L252.97 258.50L253.74 258.49L254.50 258.46L255.27 258.45L256.03 258.33L256.79 258.14L257.56 258.09L258.31 257.88L259.10 258.20L259.87 258.15L260.63 258.09L261.40 258.02L262.14 257.76L262.90 257.61L263.69 257.74L264.42 257.44L265.21 257.53L265.97 257.42L266.72 257.29L267.44 256.95L268.17 256.69L268.99 256.88L269.71 256.56L270.50 256.58L271.08 255.68L271.83 255.51L272.61 255.52L273.49 255.89L274.23 255.70L274.92 255.28L275.68 255.15L276.46 255.09L277.19 254.88L277.86 254.43L278.66 254.42L279.39 254.19L280.12 253.95L280.62 253.03L281.57 253.43L282.30 253.19L282.78 252.28L283.74 252.66L284.45 252.38L285.17 252.09L285.88 251.80L286.56 251.45L287.17 250.92L287.99 250.89L288.65 250.48L289.27 249.99L290.08 249.93L290.56 249.15L291.33 248.97L292.15 248.91L292.37 247.67L292.81 246.87L293.71 246.96L294.86 247.47L295.35 246.78L296.20 246.71L296.69 246.02L297.52 245.93L298.18 245.53L298.68 244.88L299.41 244.61L300.13 244.30L300.77 243.88L301.14 243.05L301.90 242.82L302.67 242.59L303.30 242.14L303.83 241.57L304.47 241.14L304.95 240.50L305.77 240.32L306.38 239.84L306.98 239.37L307.58 238.89L308.17 238.40L308.77 237.91L309.35 237.42L309.93 236.91L310.26 236.13L311.08 235.90L311.65 235.38L312.18 234.82L312.78 234.33L313.33 233.80L313.88 233.27L314.40 232.70L314.97 232.18L315.50 231.63L316.03 231.08L315.84 229.85L317.02 229.90L317.60 229.38L317.74 228.48L318.22 227.89L319.03 227.58L319.61 227.07L320.10 226.47L319.90 225.32L321.07 225.28L321.54 224.68L322.02 224.07L322.48 223.46L322.08 222.21L322.10 221.28L322.97 220.98L324.01 220.78L324.44 220.15L325.16 219.71L325.58 219.07L325.83 218.31L326.37 217.75L326.77 217.10L327.23 216.48L327.63 215.82L328.02 215.16L328.41 214.50L328.79 213.83L329.17 213.16L329.54 212.49L329.85 211.79L330.26 211.13L330.36 210.32L330.61 209.59L331.29 209.08L330.76 207.97L331.82 207.63L332.28 206.99L332.59 206.29L332.90 205.59L333.14 204.86L333.35 204.12L333.79 203.47L333.81 202.65L334.36 202.04L334.63 201.32L334.89 200.60L334.93 199.80L335.41 199.15L335.65 198.42L335.89 197.69L336.13 196.96L335.92 196.09L336.58 195.49L336.70 194.73L336.42 193.86L337.20 193.28L337.40 192.53L337.57 191.79L337.77 191.04L337.94 190.30L337.79 189.47L338.28 188.80L338.43 188.04L338.58 187.29L338.73 186.54L338.83 185.78L338.99 185.02L339.05 184.26L339.21 183.50L339.00 182.70L339.45 181.99L339.54 181.22L339.63 180.46L339.55 179.68L339.79 178.93L339.85 178.17L339.93 177.40L339.99 176.64L339.33 175.83L340.08 175.11L340.12 174.34L339.96 173.56L339.94 172.80L340.19 172.04L340.20 171.27L340.20 170.50L339.98 169.73L340.19 168.96L340.17 168.20L339.89 167.44L340.12 166.66L339.98 165.90L340.04 165.13L339.94 164.36L339.37 163.64L339.86 162.83L339.68 162.08L339.72 161.30L339.63 160.54L338.86 159.86L339.45 159.01L338.81 158.33L339.23 157.49L338.90 156.77L338.81 156.01L338.58 155.27L338.73 154.46L338.57 153.71L337.90 153.06L338.24 152.21L338.11 151.45L337.01 150.92L337.77 149.96L337.59 149.21L337.13 148.54L337.05 147.76L337.00 146.98L336.77 146.25L336.40 145.56L336.10 144.85L336.13 144.04L335.18 143.54L335.64 142.58L334.33 142.22L335.05 141.16L334.77 140.45L334.63 139.68L334.33 138.97L333.92 138.31L333.43 137.68L333.50 136.82L332.35 136.48L332.52 135.58L332.25 134.86L332.28 134.01L331.96 133.31L331.51 132.67L331.03 132.05L330.95 131.23L330.61 130.55L330.21 129.89L329.58 129.36L329.54 128.51L329.17 127.84L328.79 127.17L328.30 126.57L328.02 125.84L327.63 125.18L327.23 124.52L326.83 123.87L326.25 123.33L326.00 122.57L325.45 122.01L325.16 121.29L324.72 120.66L324.21 120.08L323.43 119.69L323.39 118.77L322.69 118.34L322.08 117.84L321.38 117.42L320.60 117.06L320.44 116.22L320.45 115.23L320.10 114.53L319.52 114.01L318.23 114.10L318.22 113.11L318.11 112.19L317.53 111.67L317.08 111.05L316.38 110.65L316.03 109.92L315.50 109.37L314.97 108.82L314.43 108.27L313.88 107.73L313.11 107.43L312.45 107.01L311.77 106.62L311.38 105.92L310.97 105.23L310.51 104.59L309.93 104.09L309.35 103.58L308.46 103.45L308.17 102.60L307.58 102.11L306.89 101.74L306.38 101.16L305.77 100.68L305.12 100.27L304.44 99.90L303.93 99.31L302.49 99.99L302.67 98.41L301.82 98.31L301.41 97.54L300.46 97.59L299.67 97.40L299.32 96.54L298.78 95.96L298.18 95.47L296.87 96.15L296.86 94.68L296.13 94.41L295.49 93.99L294.75 93.73L294.07 93.39L293.43 92.95L292.21 93.64L292.15 92.09L291.38 91.93L290.74 91.49L289.96 91.34L289.25 91.05L288.50 90.85L287.87 90.39L287.29 89.80L286.58 89.50L285.77 89.44L285.17 88.91L284.30 89.01L283.60 88.69L283.02 88.07L282.30 87.81L281.58 87.55L280.57 88.12L280.03 87.32L279.39 86.81L278.66 86.57L277.82 86.69L277.17 86.21L276.31 86.43L275.72 85.70L274.89 85.82L274.22 85.35L273.49 85.11L272.74 84.93L271.90 85.18L271.25 84.59L270.50 84.42L269.74 84.30L268.99 84.12L268.14 84.49L267.43 84.14L266.72 83.71L265.97 83.58L265.21 83.47L264.40 83.73L263.69 83.25L262.91 83.27L262.15 83.15L261.37 83.22L260.62 83.01L259.82 83.35L259.06 83.36L258.34 82.71L257.55 83.01L256.78 83.05L256.02 82.90L255.27 82.55L254.50 82.53L253.74 82.51L252.97 82.50L252.20 82.50Z" fill="#000" stroke="#000" stroke-width="0.28" stroke-linejoin="round"/>
<path d="M252.20 93.16L252.88 93.06L253.55 93.35L254.22 93.47L254.89 93.39L255.55 93.71L256.26 93.09L256.26 93.01L255.58 92.97L254.91 92.95L254.23 92.93L253.55 92.91L252.88 92.90L252.20 92.90Z" fill="#b000b0" stroke="#b000b0" stroke-width="1.2" stroke-linejoin="round"/>
<path d="M256.29 92.55L256.97 92.59L257.66 92.44L258.35 92.41L259.12 91.39L259.73 92.26L260.35 92.95L261.10 92.40L261.72 92.94L262.47 92.51L263.14 92.62L263.85 92.55L264.51 92.76L265.04 93.75L265.90 92.81L266.44 93.66L267.18 93.44L267.73 94.17L268.60 93.33L269.16 94.01L269.75 94.49L270.35 94.89L271.01 95.06L271.72 95.02L272.36 95.26L273.22 94.69L273.82 95.10L274.40 95.54L275.17 95.38L275.70 95.97L276.59 95.44L277.12 96.01L277.67 96.53L278.19 97.11L278.83 97.34L279.76 96.79L280.47 96.85L280.97 97.46L281.57 97.80L282.27 97.91L282.70 98.65L283.29 99.01L283.87 99.36L284.59 99.43L285.38 99.34L285.71 100.24L286.35 100.49L287.23 100.25L287.60 101.01L288.60 100.58L288.82 101.64L289.55 101.71L290.68 101.07L290.95 102.02L291.13 103.07L291.70 103.44L293.02 102.57L293.36 103.33L293.54 104.35L294.50 104.10L294.77 104.96L295.63 104.89L296.04 105.50L296.56 105.95L297.17 106.28L297.67 106.76L298.59 106.65L298.83 107.48L299.10 108.26L299.67 108.63L300.61 108.54L301.16 108.94L301.32 109.84L301.89 110.22L302.74 110.27L303.14 110.86L303.89 111.03L303.85 112.12L304.57 112.33L304.76 113.15L305.72 113.10L306.02 113.78L307.58 113.15L307.41 114.32L307.56 115.14L307.67 115.99L308.05 116.56L308.02 116.59L307.55 116.11L307.07 115.63L306.59 115.15L306.11 114.68L305.62 114.21L305.12 113.75L304.63 113.29L304.12 112.83L303.62 112.38L303.11 111.93L302.60 111.49L302.08 111.05L301.56 110.62L301.04 110.19L300.51 109.77L299.98 109.35L299.44 108.94L298.90 108.53L298.36 108.12L297.81 107.72L297.26 107.32L296.71 106.93L296.15 106.55L295.59 106.17L295.03 105.79L294.46 105.42L293.89 105.05L293.32 104.69L292.75 104.34L292.17 103.98L291.58 103.64L291.00 103.30L290.41 102.96L289.82 102.63L289.23 102.30L288.63 101.98L288.03 101.67L287.43 101.36L286.82 101.05L286.22 100.75L285.61 100.46L285.00 100.17L284.38 99.89L283.76 99.61L283.14 99.34L282.52 99.07L281.90 98.81L281.27 98.55L280.64 98.30L280.01 98.05L279.38 97.81L278.74 97.58L278.10 97.35L277.46 97.13L276.82 96.91L276.18 96.70L275.53 96.49L274.89 96.29L274.24 96.10L273.59 95.91L272.94 95.72L272.28 95.54L271.63 95.37L270.97 95.21L270.32 95.04L269.66 94.89L269.00 94.74L268.33 94.60L267.67 94.46L267.01 94.33L266.34 94.20L265.68 94.08L265.01 93.96L264.34 93.86L263.67 93.75L263.00 93.66L262.33 93.56L261.66 93.48L260.98 93.40L260.31 93.33L259.64 93.26L258.96 93.20L258.29 93.14L257.61 93.09L256.94 93.04L256.26 93.01Z" fill="#12a012" stroke="#12a012" stroke-width="1.2" stroke-linejoin="round"/>
<path d="M307.89 116.72L308.30 117.27L308.54 117.96L308.89 118.55L309.06 119.30L310.20 119.19L309.73 120.49L310.65 120.58L310.25 121.79L311.71 121.44L311.83 122.21L312.75 122.34L312.98 123.01L313.44 123.51L313.95 123.96L314.23 124.60L314.78 125.03L315.20 125.56L315.10 126.46L315.52 126.98L315.51 127.79L316.46 127.97L316.98 128.43L317.33 129.01L317.34 129.80L317.71 130.36L318.19 130.85L318.28 131.58L318.82 132.03L318.95 132.73L318.52 133.74L319.91 133.74L320.45 134.21L320.37 135.01L320.97 135.46L319.56 136.91L321.78 136.56L321.55 137.42L321.74 138.07L322.10 138.64L322.88 139.03L322.92 139.75L323.42 140.27L323.23 141.08L323.52 141.68L323.97 142.23L324.49 142.75L324.12 143.61L324.66 144.13L324.74 144.81L324.99 145.44L325.29 146.04L325.79 146.59L325.41 147.42L324.82 148.30L325.65 148.74L326.28 149.26L326.78 149.82L326.89 150.49L326.59 151.26L325.44 152.24L327.24 152.49L327.48 153.12L325.37 154.28L327.29 154.54L327.40 155.20L327.94 155.78L328.15 156.42L328.40 157.06L328.06 157.81L328.39 158.43L328.53 159.09L326.91 160.00L328.32 160.48L328.32 161.15L329.10 161.74L328.73 162.46L328.44 163.16L329.09 163.77L328.97 164.46L329.23 165.11L328.93 165.81L329.07 166.47L329.28 167.13L329.59 167.80L329.28 168.48L329.36 169.15L329.16 169.83L329.18 170.50L329.31 171.17L328.86 171.84L328.97 172.51L329.31 173.19L329.39 173.87L329.73 173.88L329.75 173.21L329.77 172.53L329.79 171.85L329.80 171.18L329.80 170.50L329.80 169.82L329.79 169.15L329.77 168.47L329.75 167.79L329.73 167.12L329.69 166.44L329.66 165.76L329.61 165.09L329.56 164.41L329.50 163.74L329.44 163.06L329.37 162.39L329.30 161.72L329.22 161.04L329.14 160.37L329.04 159.70L328.95 159.03L328.84 158.36L328.74 157.69L328.62 157.02L328.50 156.36L328.37 155.69L328.24 155.03L328.10 154.37L327.96 153.70L327.81 153.04L327.66 152.38L327.49 151.73L327.33 151.07L327.16 150.42L326.98 149.76L326.79 149.11L326.60 148.46L326.41 147.81L326.21 147.17L326.00 146.52L325.79 145.88L325.57 145.24L325.35 144.60L325.12 143.96L324.89 143.32L324.65 142.69L324.40 142.06L324.15 141.43L323.89 140.80L323.63 140.18L323.36 139.56L323.09 138.94L322.81 138.32L322.53 137.70L322.24 137.09L321.95 136.48L321.65 135.88L321.34 135.27L321.03 134.67L320.72 134.07L320.40 133.47L320.07 132.88L319.74 132.29L319.40 131.70L319.06 131.12L318.72 130.53L318.36 129.95L318.01 129.38L317.65 128.81L317.28 128.24L316.91 127.67L316.53 127.11L316.15 126.55L315.77 125.99L315.38 125.44L314.98 124.89L314.58 124.34L314.17 123.80L313.76 123.26L313.35 122.72L312.93 122.19L312.51 121.66L312.08 121.14L311.65 120.62L311.21 120.10L310.77 119.59L310.32 119.08L309.87 118.58L309.41 118.07L308.95 117.58L308.49 117.08L308.02 116.59Z" fill="#b000b0" stroke="#b000b0" stroke-width="1.2" stroke-linejoin="round"/>
<path d="M329.96 173.90L329.93 174.57L330.81 175.31L330.13 175.95L329.81 176.61L330.22 177.33L330.13 178.00L330.15 178.69L330.61 179.43L330.68 180.14L330.17 180.76L330.09 181.45L329.91 182.11L329.50 182.74L329.65 183.46L329.56 184.14L328.95 184.72L329.21 185.47L329.01 186.13L328.63 186.75L328.72 187.46L328.55 188.13L328.59 188.84L328.83 189.61L328.06 190.12L328.12 190.84L328.23 191.58L327.96 192.22L326.88 192.62L329.14 194.02L326.80 194.02L327.10 194.84L326.60 195.39L326.53 196.09L326.04 196.65L326.23 197.45L325.35 197.85L325.27 198.55L324.61 199.02L324.66 199.78L324.58 200.48L324.08 201.01L323.53 201.51L323.29 202.15L323.09 202.06L323.36 201.44L323.63 200.82L323.89 200.20L324.15 199.57L324.40 198.94L324.65 198.31L324.89 197.68L325.12 197.04L325.35 196.40L325.57 195.76L325.79 195.12L326.00 194.48L326.21 193.83L326.41 193.19L326.60 192.54L326.79 191.89L326.98 191.24L327.16 190.58L327.33 189.93L327.49 189.27L327.66 188.62L327.81 187.96L327.96 187.30L328.10 186.63L328.24 185.97L328.37 185.31L328.50 184.64L328.62 183.98L328.74 183.31L328.84 182.64L328.95 181.97L329.04 181.30L329.14 180.63L329.22 179.96L329.30 179.28L329.37 178.61L329.44 177.94L329.50 177.26L329.56 176.59L329.61 175.91L329.66 175.24L329.69 174.56L329.73 173.88Z" fill="#12a012" stroke="#12a012" stroke-width="1.2" stroke-linejoin="round"/>
<path d="M323.02 202.03L322.70 202.63L322.32 203.20L321.48 203.55L321.58 204.34L321.47 205.04L321.08 205.59L318.44 204.98L320.53 206.83L320.18 207.41L319.85 208.00L318.95 208.27L318.97 209.05L318.89 209.78L318.26 210.19L318.02 210.83L317.01 211.00L317.51 212.11L316.72 212.40L316.56 213.10L316.08 213.59L315.33 213.89L315.21 214.62L314.60 215.01L314.73 215.93L313.99 216.22L313.20 216.47L313.54 217.56L312.67 217.75L312.78 218.69L311.52 218.54L311.72 219.57L310.90 219.76L310.91 220.64L310.58 221.25L309.21 220.94L309.38 221.99L309.19 222.72L308.71 223.19L307.52 223.00L307.64 224.04L306.77 224.12L306.25 224.55L306.45 225.71L305.71 225.92L305.37 226.53L304.26 226.33L304.18 227.23L303.82 227.83L303.24 228.19L302.77 228.67L302.00 228.81L301.50 229.26L300.95 229.64L300.34 229.95L300.17 230.80L299.60 231.17L298.84 231.28L297.98 231.25L298.10 232.53L297.68 233.10L297.81 233.28L298.36 232.88L298.90 232.47L299.44 232.06L299.98 231.65L300.51 231.23L301.04 230.81L301.56 230.38L302.08 229.95L302.60 229.51L303.11 229.07L303.62 228.62L304.12 228.17L304.63 227.71L305.12 227.25L305.62 226.79L306.11 226.32L306.59 225.85L307.07 225.37L307.55 224.89L308.02 224.41L308.49 223.92L308.95 223.42L309.41 222.93L309.87 222.42L310.32 221.92L310.77 221.41L311.21 220.90L311.65 220.38L312.08 219.86L312.51 219.34L312.93 218.81L313.35 218.28L313.76 217.74L314.17 217.20L314.58 216.66L314.98 216.11L315.38 215.56L315.77 215.01L316.15 214.45L316.53 213.89L316.91 213.33L317.28 212.76L317.65 212.19L318.01 211.62L318.36 211.05L318.72 210.47L319.06 209.88L319.40 209.30L319.74 208.71L320.07 208.12L320.40 207.53L320.72 206.93L321.03 206.33L321.34 205.73L321.65 205.12L321.95 204.52L322.24 203.91L322.53 203.30L322.81 202.68L323.09 202.06Z" fill="#b000b0" stroke="#b000b0" stroke-width="1.2" stroke-linejoin="round"/>
<path d="M298.05 233.60L297.66 234.23L297.60 235.34L296.81 235.41L296.16 235.68L295.32 235.65L295.66 237.42L293.98 236.08L293.77 237.03L293.47 237.84L292.36 237.34L291.85 237.80L291.68 238.89L290.64 238.44L290.05 238.78L289.96 240.05L289.11 239.91L288.22 239.69L287.55 239.88L287.42 241.13L286.73 241.29L285.74 240.83L285.92 242.81L284.96 242.39L283.83 241.54L283.32 242.07L282.62 242.17L282.30 243.16L281.55 243.13L281.28 244.33L280.18 243.39L279.46 243.41L279.26 244.86L278.27 244.11L277.59 244.23L276.89 244.29L276.44 245.11L275.68 244.97L275.06 245.27L274.35 245.26L273.81 245.88L273.08 245.79L272.33 245.62L271.97 246.95L271.11 246.34L270.35 246.11L269.83 246.85L269.27 247.49L268.58 247.57L267.79 247.14L267.15 247.42L266.58 248.09L265.80 247.65L265.08 247.44L264.44 247.75L264.05 249.82L263.14 248.33L262.38 247.85L261.77 248.43L261.02 247.89L260.38 248.35L259.67 248.05L259.04 248.72L258.32 248.24L257.76 249.96L256.97 248.44L256.31 248.90L255.61 248.54L254.92 248.26L254.25 248.85L253.56 248.59L252.88 248.63L252.20 248.33L251.52 248.74L250.84 248.37L250.15 248.61L249.48 248.41L248.74 249.82L248.10 248.64L247.41 248.83L246.75 248.40L246.00 249.25L245.35 248.74L244.72 248.19L244.06 247.94L244.09 247.67L244.76 247.74L245.44 247.80L246.11 247.86L246.79 247.91L247.46 247.96L248.14 247.99L248.82 248.03L249.49 248.05L250.17 248.07L250.85 248.09L251.52 248.10L252.20 248.10L252.88 248.10L253.55 248.09L254.23 248.07L254.91 248.05L255.58 248.03L256.26 247.99L256.94 247.96L257.61 247.91L258.29 247.86L258.96 247.80L259.64 247.74L260.31 247.67L260.98 247.60L261.66 247.52L262.33 247.44L263.00 247.34L263.67 247.25L264.34 247.14L265.01 247.04L265.68 246.92L266.34 246.80L267.01 246.67L267.67 246.54L268.33 246.40L269.00 246.26L269.66 246.11L270.32 245.96L270.97 245.79L271.63 245.63L272.28 245.46L272.94 245.28L273.59 245.09L274.24 244.90L274.89 244.71L275.53 244.51L276.18 244.30L276.82 244.09L277.46 243.87L278.10 243.65L278.74 243.42L279.38 243.19L280.01 242.95L280.64 242.70L281.27 242.45L281.90 242.19L282.52 241.93L283.14 241.66L283.76 241.39L284.38 241.11L285.00 240.83L285.61 240.54L286.22 240.25L286.82 239.95L287.43 239.64L288.03 239.33L288.63 239.02L289.23 238.70L289.82 238.37L290.41 238.04L291.00 237.70L291.58 237.36L292.17 237.02L292.75 236.66L293.32 236.31L293.89 235.95L294.46 235.58L295.03 235.21L295.59 234.83L296.15 234.45L296.71 234.07L297.26 233.68L297.81 233.28Z" fill="#12a012" stroke="#12a012" stroke-width="1.2" stroke-linejoin="round"/>
<path d="M244.10 247.57L243.44 247.40L242.78 247.21L242.17 246.66L241.55 246.26L240.85 246.43L240.25 245.98L239.49 246.43L239.07 244.95L238.20 246.03L237.47 246.26L236.85 245.92L236.18 245.86L235.69 244.96L235.16 244.30L234.19 245.52L233.67 244.80L232.84 245.38L232.24 245.01L231.58 244.86L231.08 244.15L230.71 243.04L229.56 244.56L228.92 244.33L228.63 243.03L227.71 243.70L227.14 243.29L226.83 242.16L225.81 243.01L225.23 242.63L224.77 241.97L224.08 241.89L223.31 242.00L222.68 241.76L222.08 241.46L221.65 240.76L220.76 241.11L220.91 239.17L219.51 240.60L219.34 239.39L218.62 239.34L218.18 238.73L217.04 239.50L216.47 239.13L215.94 238.70L215.77 239.02L216.37 239.33L216.97 239.64L217.58 239.95L218.18 240.25L218.79 240.54L219.40 240.83L220.02 241.11L220.64 241.39L221.26 241.66L221.88 241.93L222.50 242.19L223.13 242.45L223.76 242.70L224.39 242.95L225.02 243.19L225.66 243.42L226.30 243.65L226.94 243.87L227.58 244.09L228.22 244.30L228.87 244.51L229.51 244.71L230.16 244.90L230.81 245.09L231.46 245.28L232.12 245.46L232.77 245.63L233.43 245.79L234.08 245.96L234.74 246.11L235.40 246.26L236.07 246.40L236.73 246.54L237.39 246.67L238.06 246.80L238.72 246.92L239.39 247.04L240.06 247.14L240.73 247.25L241.40 247.34L242.07 247.44L242.74 247.52L243.42 247.60L244.09 247.67Z" fill="#b000b0" stroke="#b000b0" stroke-width="1.2" stroke-linejoin="round"/>
<path d="M215.74 239.06L214.85 239.28L214.07 239.29L213.77 238.42L213.30 237.88L212.50 237.89L212.01 237.38L211.35 237.16L210.29 237.57L210.11 236.57L209.36 236.46L209.27 235.36L208.69 235.01L207.64 235.34L207.01 235.03L206.78 234.18L206.26 233.73L205.83 233.16L205.13 232.96L204.58 232.56L203.40 232.96L202.93 232.44L202.45 231.94L202.60 230.67L201.46 230.97L201.55 229.81L200.67 229.78L200.10 229.39L199.72 228.78L199.42 228.10L198.80 227.76L198.34 227.26L198.10 226.52L197.55 226.11L197.03 225.67L196.61 225.13L196.15 224.63L195.76 224.06L195.04 223.80L194.57 223.31L194.13 222.79L193.80 222.16L192.83 222.11L192.52 221.47L192.25 220.81L191.14 220.83L191.47 219.68L190.70 219.42L190.86 218.42L190.31 217.99L189.22 217.96L189.19 217.12L188.88 216.51L187.84 216.41L187.99 215.46L187.15 215.21L187.24 214.32L186.97 213.67L186.07 213.45L184.42 213.68L185.96 211.89L185.24 211.53L185.12 210.81L184.90 210.14L183.99 209.88L183.33 209.47L184.12 208.24L183.81 207.64L183.13 207.22L183.13 206.45L183.02 205.75L183.06 205.73L183.37 206.33L183.68 206.93L184.00 207.53L184.33 208.12L184.66 208.71L185.00 209.30L185.34 209.88L185.68 210.47L186.04 211.05L186.39 211.62L186.75 212.19L187.12 212.76L187.49 213.33L187.87 213.89L188.25 214.45L188.63 215.01L189.02 215.56L189.42 216.11L189.82 216.66L190.23 217.20L190.64 217.74L191.05 218.28L191.47 218.81L191.89 219.34L192.32 219.86L192.75 220.38L193.19 220.90L193.63 221.41L194.08 221.92L194.53 222.42L194.99 222.93L195.45 223.42L195.91 223.92L196.38 224.41L196.85 224.89L197.33 225.37L197.81 225.85L198.29 226.32L198.78 226.79L199.28 227.25L199.77 227.71L200.28 228.17L200.78 228.62L201.29 229.07L201.80 229.51L202.32 229.95L202.84 230.38L203.36 230.81L203.89 231.23L204.42 231.65L204.96 232.06L205.50 232.47L206.04 232.88L206.59 233.28L207.14 233.68L207.69 234.07L208.25 234.45L208.81 234.83L209.37 235.21L209.94 235.58L210.51 235.95L211.08 236.31L211.65 236.66L212.23 237.02L212.82 237.36L213.40 237.70L213.99 238.04L214.58 238.37L215.17 238.70L215.77 239.02Z" fill="#12a012" stroke="#12a012" stroke-width="1.2" stroke-linejoin="round"/>
<path d="M183.42 205.54L183.03 204.98L183.36 204.07L183.47 203.28L182.59 202.96L182.32 202.34L181.94 201.78L182.16 200.95L181.52 200.50L181.52 199.78L180.60 199.43L180.38 198.79L180.08 198.18L179.98 197.50L179.44 196.98L179.22 196.34L179.02 195.70L179.09 194.96L179.38 194.16L179.49 193.43L179.04 192.87L177.98 192.49L177.91 191.80L178.39 190.97L178.00 190.38L177.49 189.82L177.45 189.14L177.22 188.50L176.92 187.88L177.45 187.07L176.65 186.56L176.40 185.92L177.03 185.11L177.12 184.41L176.09 183.92L176.38 183.19L176.57 182.48L176.15 181.87L176.35 181.16L175.96 180.54L175.63 179.90L175.49 179.24L176.57 178.45L175.63 177.87L175.36 177.22L175.30 176.55L175.31 175.88L176.30 175.14L174.86 174.55L175.47 173.85L175.63 173.17L175.56 172.51L175.79 171.83L175.59 171.17L177.31 170.50L175.78 169.83L174.81 169.15L176.40 168.52L175.03 167.81L175.02 167.13L175.57 166.48L175.78 165.83L175.75 165.15L175.55 164.47L175.59 163.80L175.83 163.15L175.73 162.46L177.02 161.93L176.18 161.17L175.99 160.47L176.55 159.87L175.93 159.10L177.56 158.68L175.87 157.73L176.34 157.12L176.65 156.50L176.82 155.85L176.96 155.19L176.58 154.43L177.07 153.84L177.01 153.14L177.30 152.52L178.01 152.00L178.16 151.35L178.86 150.85L178.09 149.95L177.95 149.21L178.19 148.58L180.73 148.65L178.42 147.24L179.83 146.98L179.10 146.04L179.00 145.30L180.42 145.08L179.72 144.12L181.03 143.89L180.46 142.96L180.40 142.22L180.82 141.66L181.03 141.02L181.11 140.32L181.75 139.87L182.29 139.37L181.99 138.50L184.40 138.88L182.43 137.22L183.32 136.91L183.35 136.17L184.35 135.93L183.54 134.76L183.93 134.20L184.50 133.74L185.36 133.45L186.38 133.26L185.49 131.98L185.86 131.42L185.96 130.70L186.83 130.44L186.75 129.60L187.30 129.15L187.84 128.70L187.95 127.97L188.20 127.33L188.89 126.99L188.70 126.04L188.63 125.99L188.25 126.55L187.87 127.11L187.49 127.67L187.12 128.24L186.75 128.81L186.39 129.38L186.04 129.95L185.68 130.53L185.34 131.12L185.00 131.70L184.66 132.29L184.33 132.88L184.00 133.47L183.68 134.07L183.37 134.67L183.06 135.27L182.75 135.88L182.45 136.48L182.16 137.09L181.87 137.70L181.59 138.32L181.31 138.94L181.04 139.56L180.77 140.18L180.51 140.80L180.25 141.43L180.00 142.06L179.75 142.69L179.51 143.32L179.28 143.96L179.05 144.60L178.83 145.24L178.61 145.88L178.40 146.52L178.19 147.17L177.99 147.81L177.80 148.46L177.61 149.11L177.42 149.76L177.24 150.42L177.07 151.07L176.91 151.73L176.74 152.38L176.59 153.04L176.44 153.70L176.30 154.37L176.16 155.03L176.03 155.69L175.90 156.36L175.78 157.02L175.66 157.69L175.56 158.36L175.45 159.03L175.36 159.70L175.26 160.37L175.18 161.04L175.10 161.72L175.03 162.39L174.96 163.06L174.90 163.74L174.84 164.41L174.79 165.09L174.74 165.76L174.71 166.44L174.67 167.12L174.65 167.79L174.63 168.47L174.61 169.15L174.60 169.82L174.60 170.50L174.60 171.18L174.61 171.85L174.63 172.53L174.65 173.21L174.67 173.88L174.71 174.56L174.74 175.24L174.79 175.91L174.84 176.59L174.90 177.26L174.96 177.94L175.03 178.61L175.10 179.28L175.18 179.96L175.26 180.63L175.36 181.30L175.45 181.97L175.56 182.64L175.66 183.31L175.78 183.98L175.90 184.64L176.03 185.31L176.16 185.97L176.30 186.63L176.44 187.30L176.59 187.96L176.74 188.62L176.91 189.27L177.07 189.93L177.24 190.58L177.42 191.24L177.61 191.89L177.80 192.54L177.99 193.19L178.19 193.83L178.40 194.48L178.61 195.12L178.83 195.76L179.05 196.40L179.28 197.04L179.51 197.68L179.75 198.31L180.00 198.94L180.25 199.57L180.51 200.20L180.77 200.82L181.04 201.44L181.31 202.06L181.59 202.68L181.87 203.30L182.16 203.91L182.45 204.52L182.75 205.12L183.06 205.73Z" fill="#b000b0" stroke="#b000b0" stroke-width="1.2" stroke-linejoin="round"/>
<path d="M188.52 125.91L188.69 125.20L189.10 124.66L188.83 123.61L190.07 123.68L190.02 122.79L190.87 122.58L190.69 121.57L191.65 121.47L192.00 120.88L191.82 119.83L192.87 119.83L193.21 119.22L191.90 117.15L194.02 118.11L194.26 117.41L195.31 117.45L195.01 116.23L196.23 116.45L196.36 115.63L196.19 114.49L196.94 114.27L197.53 113.89L197.99 113.37L199.13 113.59L199.13 112.58L200.08 112.62L200.51 112.07L200.59 111.13L201.68 111.35L202.18 110.89L202.39 110.07L202.97 109.71L203.76 109.61L204.27 109.15L204.72 108.62L205.29 108.25L205.94 107.99L206.52 107.62L206.59 107.72L206.04 108.12L205.50 108.53L204.96 108.94L204.42 109.35L203.89 109.77L203.36 110.19L202.84 110.62L202.32 111.05L201.80 111.49L201.29 111.93L200.78 112.38L200.28 112.83L199.77 113.29L199.28 113.75L198.78 114.21L198.29 114.68L197.81 115.15L197.33 115.63L196.85 116.11L196.38 116.59L195.91 117.08L195.45 117.58L194.99 118.07L194.53 118.58L194.08 119.08L193.63 119.59L193.19 120.10L192.75 120.62L192.32 121.14L191.89 121.66L191.47 122.19L191.05 122.72L190.64 123.26L190.23 123.80L189.82 124.34L189.42 124.89L189.02 125.44L188.63 125.99Z" fill="#12a012" stroke="#12a012" stroke-width="1.2" stroke-linejoin="round"/>
<path d="M206.73 107.91L207.42 107.72L207.82 107.12L208.44 106.83L210.20 108.23L209.49 105.97L210.99 107.04L210.88 105.64L211.31 105.06L212.20 105.22L212.99 105.24L213.21 104.31L213.71 103.84L214.20 103.33L214.89 103.18L215.45 102.82L216.06 102.53L216.63 102.17L218.21 103.79L218.12 102.14L218.74 101.89L219.22 101.35L219.86 101.15L220.27 100.44L220.86 100.12L221.65 100.24L222.13 99.66L222.82 99.58L223.39 99.20L223.95 98.77L224.66 98.77L225.36 98.71L225.71 97.71L225.66 97.58L225.02 97.81L224.39 98.05L223.76 98.30L223.13 98.55L222.50 98.81L221.88 99.07L221.26 99.34L220.64 99.61L220.02 99.89L219.40 100.17L218.79 100.46L218.18 100.75L217.58 101.05L216.97 101.36L216.37 101.67L215.77 101.98L215.17 102.30L214.58 102.63L213.99 102.96L213.40 103.30L212.82 103.64L212.23 103.98L211.65 104.34L211.08 104.69L210.51 105.05L209.94 105.42L209.37 105.79L208.81 106.17L208.25 106.55L207.69 106.93L207.14 107.32L206.59 107.72Z" fill="#b000b0" stroke="#b000b0" stroke-width="1.2" stroke-linejoin="round"/>
<path d="M225.60 97.42L226.27 97.27L226.54 95.97L226.99 95.15L227.98 95.96L228.48 95.26L229.18 95.21L229.65 94.36L230.62 95.22L231.27 95.03L232.01 95.15L232.68 95.03L233.39 95.05L233.87 94.14L234.64 94.45L235.20 93.82L235.88 93.73L236.50 93.34L237.36 94.18L237.39 94.33L236.73 94.46L236.07 94.60L235.40 94.74L234.74 94.89L234.08 95.04L233.43 95.21L232.77 95.37L232.12 95.54L231.46 95.72L230.81 95.91L230.16 96.10L229.51 96.29L228.87 96.49L228.22 96.70L227.58 96.91L226.94 97.13L226.30 97.35L225.66 97.58Z" fill="#12a012" stroke="#12a012" stroke-width="1.2" stroke-linejoin="round"/>
<path d="M237.41 94.40L238.08 94.31L238.84 94.73L239.43 94.22L240.10 94.11L240.76 93.94L241.48 94.21L242.11 93.87L242.86 94.42L243.65 95.49L244.11 93.54L244.84 94.07L245.48 93.68L246.15 93.59L246.93 95.08L247.52 94.04L248.15 93.24L248.86 94.00L249.53 94.10L250.21 94.49L250.86 93.71L251.52 93.14L252.20 92.95L252.20 92.90L251.52 92.90L250.85 92.91L250.17 92.93L249.49 92.95L248.82 92.97L248.14 93.01L247.46 93.04L246.79 93.09L246.11 93.14L245.44 93.20L244.76 93.26L244.09 93.33L243.42 93.40L242.74 93.48L242.07 93.56L241.40 93.66L240.73 93.75L240.06 93.86L239.39 93.96L238.72 94.08L238.06 94.20L237.39 94.33Z" fill="#b000b0" stroke="#b000b0" stroke-width="1.2" stroke-linejoin="round"/>
<rect x="251.70" y="97.40" width="1.1" height="1.1" fill="#808080"/>
<rect x="257.00" y="97.69" width="0.9" height="0.9" fill="#c4c4c4"/>
<rect x="262.08" y="98.15" width="1.1" height="1.1" fill="#808080"/>
<rect x="267.30" y="99.17" width="0.9" height="0.9" fill="#c4c4c4"/>
<rect x="272.25" y="100.37" width="1.1" height="1.1" fill="#808080"/>
<rect x="277.28" y="102.12" width="0.9" height="0.9" fill="#c4c4c4"/>
<rect x="281.99" y="104.02" width="1.1" height="1.1" fill="#808080"/>
<rect x="286.74" y="106.46" width="0.9" height="0.9" fill="#c4c4c4"/>
<rect x="291.11" y="109.03" width="1.1" height="1.1" fill="#808080"/>
<rect x="295.48" y="112.11" width="0.9" height="0.9" fill="#c4c4c4"/>
<rect x="299.43" y="115.29" width="1.1" height="1.1" fill="#808080"/>
<rect x="303.32" y="118.95" width="0.9" height="0.9" fill="#c4c4c4"/>
<rect x="306.76" y="122.68" width="1.1" height="1.1" fill="#808080"/>
<rect x="310.11" y="126.84" width="0.9" height="0.9" fill="#c4c4c4"/>
<rect x="312.96" y="131.03" width="1.1" height="1.1" fill="#808080"/>
<rect x="315.69" y="135.63" width="0.9" height="0.9" fill="#c4c4c4"/>
<rect x="317.90" y="140.19" width="1.1" height="1.1" fill="#808080"/>
<rect x="319.97" y="145.11" width="0.9" height="0.9" fill="#c4c4c4"/>
<rect x="321.48" y="149.96" width="1.1" height="1.1" fill="#808080"/>
<rect x="322.84" y="155.12" width="0.9" height="0.9" fill="#c4c4c4"/>
<rect x="323.63" y="160.15" width="1.1" height="1.1" fill="#808080"/>
<rect x="324.25" y="165.43" width="0.9" height="0.9" fill="#c4c4c4"/>
<rect x="324.30" y="170.53" width="1.1" height="1.1" fill="#808080"/>
<rect x="324.17" y="175.83" width="0.9" height="0.9" fill="#c4c4c4"/>
<rect x="323.48" y="180.91" width="1.1" height="1.1" fill="#808080"/>
<rect x="322.61" y="186.12" width="0.9" height="0.9" fill="#c4c4c4"/>
<rect x="321.18" y="191.06" width="1.1" height="1.1" fill="#808080"/>
<rect x="319.59" y="196.08" width="0.9" height="0.9" fill="#c4c4c4"/>
<rect x="317.46" y="200.77" width="1.1" height="1.1" fill="#808080"/>
<rect x="315.18" y="205.51" width="0.9" height="0.9" fill="#c4c4c4"/>
<rect x="312.38" y="209.86" width="1.1" height="1.1" fill="#808080"/>
<rect x="309.47" y="214.21" width="0.9" height="0.9" fill="#c4c4c4"/>
<rect x="306.06" y="218.13" width="1.1" height="1.1" fill="#808080"/>
<rect x="302.57" y="222.00" width="0.9" height="0.9" fill="#c4c4c4"/>
<rect x="298.62" y="225.40" width="1.1" height="1.1" fill="#808080"/>
<rect x="294.63" y="228.72" width="0.9" height="0.9" fill="#c4c4c4"/>
<rect x="290.22" y="231.54" width="1.1" height="1.1" fill="#808080"/>
<rect x="285.81" y="234.24" width="0.9" height="0.9" fill="#c4c4c4"/>
<rect x="281.02" y="236.42" width="1.1" height="1.1" fill="#808080"/>
<rect x="276.29" y="238.45" width="0.9" height="0.9" fill="#c4c4c4"/>
<rect x="271.22" y="239.93" width="1.1" height="1.1" fill="#808080"/>
<rect x="266.26" y="241.25" width="0.9" height="0.9" fill="#c4c4c4"/>
<rect x="261.03" y="242.00" width="1.1" height="1.1" fill="#808080"/>
<rect x="255.94" y="242.58" width="0.9" height="0.9" fill="#c4c4c4"/>
<rect x="250.64" y="242.59" width="1.1" height="1.1" fill="#808080"/>
<rect x="245.54" y="242.43" width="0.9" height="0.9" fill="#c4c4c4"/>
<rect x="240.27" y="241.69" width="1.1" height="1.1" fill="#808080"/>
<rect x="235.26" y="240.79" width="0.9" height="0.9" fill="#c4c4c4"/>
<rect x="230.13" y="239.32" width="1.1" height="1.1" fill="#808080"/>
<rect x="225.32" y="237.70" width="0.9" height="0.9" fill="#c4c4c4"/>
<rect x="220.44" y="235.53" width="1.1" height="1.1" fill="#808080"/>
<rect x="215.93" y="233.22" width="0.9" height="0.9" fill="#c4c4c4"/>
<rect x="211.40" y="230.39" width="1.1" height="1.1" fill="#808080"/>
<rect x="207.27" y="227.44" width="0.9" height="0.9" fill="#c4c4c4"/>
<rect x="203.18" y="224.00" width="1.1" height="1.1" fill="#808080"/>
<rect x="199.53" y="220.49" width="0.9" height="0.9" fill="#c4c4c4"/>
<rect x="195.96" y="216.51" width="1.1" height="1.1" fill="#808080"/>
<rect x="192.86" y="212.50" width="0.9" height="0.9" fill="#c4c4c4"/>
<rect x="189.88" y="208.06" width="1.1" height="1.1" fill="#808080"/>
<rect x="187.41" y="203.63" width="0.9" height="0.9" fill="#c4c4c4"/>
<rect x="185.07" y="198.83" width="1.1" height="1.1" fill="#808080"/>
<rect x="183.28" y="194.08" width="0.9" height="0.9" fill="#c4c4c4"/>
<rect x="181.63" y="189.01" width="1.1" height="1.1" fill="#808080"/>
<rect x="180.55" y="184.04" width="0.9" height="0.9" fill="#c4c4c4"/>
<rect x="179.63" y="178.80" width="1.1" height="1.1" fill="#808080"/>
<rect x="179.29" y="173.71" width="0.9" height="0.9" fill="#c4c4c4"/>
<rect x="179.12" y="168.40" width="1.1" height="1.1" fill="#808080"/>
<rect x="179.52" y="163.31" width="0.9" height="0.9" fill="#c4c4c4"/>
<rect x="180.09" y="158.04" width="1.1" height="1.1" fill="#808080"/>
<rect x="181.23" y="153.04" width="0.9" height="0.9" fill="#c4c4c4"/>
<rect x="182.54" y="147.93" width="1.1" height="1.1" fill="#808080"/>
<rect x="184.40" y="143.13" width="0.9" height="0.9" fill="#c4c4c4"/>
<rect x="186.40" y="138.27" width="1.1" height="1.1" fill="#808080"/>
<rect x="188.95" y="133.77" width="0.9" height="0.9" fill="#c4c4c4"/>
<rect x="191.61" y="129.26" width="1.1" height="1.1" fill="#808080"/>
<rect x="194.79" y="125.15" width="0.9" height="0.9" fill="#c4c4c4"/>
<rect x="198.05" y="121.08" width="1.1" height="1.1" fill="#808080"/>
<rect x="201.80" y="117.46" width="0.9" height="0.9" fill="#c4c4c4"/>
<rect x="205.60" y="113.92" width="1.1" height="1.1" fill="#808080"/>
<rect x="209.84" y="110.86" width="0.9" height="0.9" fill="#c4c4c4"/>
<rect x="214.09" y="107.90" width="1.1" height="1.1" fill="#808080"/>
<rect x="218.74" y="105.46" width="0.9" height="0.9" fill="#c4c4c4"/>
<rect x="223.36" y="103.16" width="1.1" height="1.1" fill="#808080"/>
<rect x="228.32" y="101.40" width="0.9" height="0.9" fill="#c4c4c4"/>
<rect x="233.20" y="99.80" width="1.1" height="1.1" fill="#808080"/>
<rect x="238.38" y="98.75" width="0.9" height="0.9" fill="#c4c4c4"/>
<rect x="243.43" y="97.87" width="1.1" height="1.1" fill="#808080"/>
<rect x="248.72" y="97.57" width="0.9" height="0.9" fill="#c4c4c4"/>
<text class="s" x="236.3" y="113.1" font-size="5.7" text-anchor="middle" fill="#000" stroke="#000" stroke-width="0.12">4.0 Mbp</text>
<text class="s" x="287.9" y="125.6" font-size="5.7" text-anchor="middle" fill="#000" stroke="#000" stroke-width="0.12">0.5 Mbp</text>
<text class="s" x="310.5" y="167.0" font-size="5.7" text-anchor="middle" fill="#000" stroke="#000" stroke-width="0.12">1.0 Mbp</text>
<text class="s" x="297.4" y="212.0" font-size="5.7" text-anchor="middle" fill="#000" stroke="#000" stroke-width="0.12">1.5 Mbp</text>
<text class="s" x="266.6" y="238.4" font-size="5.7" text-anchor="middle" fill="#000" stroke="#000" stroke-width="0.12">2.0 Mbp,</text>
<text class="s" x="226.7" y="230.1" font-size="5.7" text-anchor="middle" fill="#000" stroke="#000" stroke-width="0.12">2.5 Mbp</text>
<text class="s" x="196.5" y="191.1" font-size="5.7" text-anchor="middle" fill="#000" stroke="#000" stroke-width="0.12">3.0 Mbp</text>
<text class="s" x="200.0" y="147.0" font-size="5.7" text-anchor="middle" fill="#000" stroke="#000" stroke-width="0.12">3.5 Mbp</text>
<text class="ri" x="233.4" y="162" font-size="15.2" textLength="48.4" lengthAdjust="spacingAndGlyphs">Bacillus</text>
<text class="ri" x="203.9" y="179.2" font-size="15.2" textLength="105" lengthAdjust="spacingAndGlyphs">paralicheniformis</text>
<text class="r" x="230.4" y="196.9" font-size="14.8" textLength="53" lengthAdjust="spacingAndGlyphs">NNS4-3</text>
<ellipse cx="245.3" cy="58.6" rx="1.5" ry="1.5" fill="#f21d1d"/>
<ellipse cx="306.5" cy="66.5" rx="1.0" ry="1.0" fill="#f26ad8"/>
<ellipse cx="305.2" cy="69.5" rx="0.8" ry="0.8" fill="#ee1177"/>
<ellipse cx="308.4" cy="70.9" rx="1.1" ry="1.1" fill="#2fd02f"/>
<ellipse cx="323.0" cy="78.0" rx="1.2" ry="1.2" fill="#f26ad8"/>
<ellipse cx="324.6" cy="79.0" rx="1.1" ry="1.1" fill="#2fd02f"/>
<ellipse cx="322.2" cy="79.8" rx="0.9" ry="0.9" fill="#22b8d8"/>
<ellipse cx="323.8" cy="84.0" rx="1.2" ry="1.2" fill="#f21d1d"/>
<ellipse cx="326.4" cy="83" rx="0.9" ry="0.9" fill="#2fd02f"/>
<ellipse cx="329" cy="78" rx="0.8" ry="0.8" fill="#2fd02f"/>
<ellipse cx="363.6" cy="163.6" rx="1.0" ry="0.7" fill="#f26ad8"/>
<ellipse cx="368.8" cy="164.0" rx="1.3" ry="1.0" fill="#ee1177"/>
<ellipse cx="369.0" cy="166.0" rx="1.3" ry="0.8" fill="#2fd02f"/>
<ellipse cx="353.6" cy="227.0" rx="1.7" ry="2.0" fill="#f21d1d"/>
<ellipse cx="353.2" cy="230.3" rx="1.5" ry="1.6" fill="#f21d1d"/>
<ellipse cx="356" cy="225.5" rx="1.0" ry="1.0" fill="#f26ad8"/>
<ellipse cx="327.5" cy="260.0" rx="1.9" ry="1.6" fill="#f21d1d"/>
<ellipse cx="325.6" cy="262.0" rx="1.3" ry="1.3" fill="#f21d1d"/>
<ellipse cx="326.6" cy="253.4" rx="1.3" ry="1.0" fill="#2fd02f"/>
<ellipse cx="330.2" cy="258.0" rx="1.2" ry="0.9" fill="#f26ad8"/>
<ellipse cx="321.0" cy="258.7" rx="1.0" ry="1.0" fill="#22b8d8"/>
<ellipse cx="322.3" cy="259.3" rx="0.8" ry="0.8" fill="#f26ad8"/>
<ellipse cx="297.0" cy="272.7" rx="1.0" ry="1.2" fill="#f26ad8"/>
<ellipse cx="299.6" cy="272.6" rx="0.9" ry="1.2" fill="#22b8d8"/>
<ellipse cx="302.4" cy="276.6" rx="1.0" ry="1.1" fill="#ee1177"/>
<ellipse cx="270.5" cy="279.5" rx="0.8" ry="1.1" fill="#2fd02f"/>
<ellipse cx="268.3" cy="280.0" rx="0.8" ry="1.1" fill="#f26ad8"/>
<ellipse cx="257.5" cy="281.5" rx="0.8" ry="1.2" fill="#ee1177"/>
<ellipse cx="236.5" cy="280.5" rx="0.9" ry="1.1" fill="#f26ad8"/>
<ellipse cx="238.3" cy="280.8" rx="0.7" ry="1.0" fill="#ee1177"/>
<ellipse cx="329.5" cy="290.5" rx="0.9" ry="0.9" fill="#f26ad8"/>
<ellipse cx="183.6" cy="258.6" rx="2.7" ry="2.1" fill="#f21d1d"/>
<ellipse cx="181.3" cy="257.2" rx="1.4" ry="1.4" fill="#f21d1d"/>
<ellipse cx="186.2" cy="261.0" rx="1.6" ry="1.7" fill="#f21d1d"/>
<ellipse cx="180.2" cy="256.0" rx="1.1" ry="0.8" fill="#2fd02f"/>
<ellipse cx="174.0" cy="259.3" rx="1.2" ry="1.2" fill="#22b8d8"/>
<ellipse cx="183.0" cy="265.2" rx="1.1" ry="1.1" fill="#f26ad8"/>
<ellipse cx="189.3" cy="262.0" rx="0.8" ry="1.0" fill="#2fd02f"/>
<ellipse cx="178.5" cy="261.8" rx="0.8" ry="0.8" fill="#f26ad8"/>
<ellipse cx="141.3" cy="186.6" rx="1.3" ry="1.0" fill="#f26ad8"/>
<ellipse cx="142.4" cy="186.9" rx="0.8" ry="0.7" fill="#cc22cc"/>
<ellipse cx="167.3" cy="97.4" rx="1.2" ry="0.9" fill="#22b8d8"/>
<ellipse cx="174.3" cy="99.4" rx="0.7" ry="0.9" fill="#f26ad8"/>
<ellipse cx="195.5" cy="253.5" rx="1.0" ry="0.7" fill="#f59a23"/>
<ellipse cx="239.2" cy="78.1" rx="0.9" ry="0.8" fill="#f59a23"/>
<ellipse cx="293.1" cy="86.6" rx="0.9" ry="0.8" fill="#f59a23"/>
<ellipse cx="341.4" cy="143.2" rx="0.9" ry="0.8" fill="#f59a23"/>
<ellipse cx="342.7" cy="193.1" rx="0.9" ry="0.8" fill="#f59a23"/>
<ellipse cx="322.6" cy="231.7" rx="0.9" ry="0.8" fill="#f59a23"/>
<ellipse cx="296.0" cy="252.9" rx="0.9" ry="0.8" fill="#f59a23"/>
<ellipse cx="250.6" cy="263.8" rx="0.9" ry="0.8" fill="#f59a23"/>
<ellipse cx="217.2" cy="257.0" rx="0.9" ry="0.8" fill="#f59a23"/>
<ellipse cx="192.6" cy="242.3" rx="0.9" ry="0.8" fill="#f59a23"/>
<ellipse cx="174.9" cy="222.7" rx="0.9" ry="0.8" fill="#f59a23"/>
<ellipse cx="160.6" cy="188.3" rx="0.9" ry="0.8" fill="#f59a23"/>
<ellipse cx="160.6" cy="152.7" rx="0.9" ry="0.8" fill="#f59a23"/>
<ellipse cx="179.7" cy="111.8" rx="0.9" ry="0.8" fill="#f59a23"/>
<ellipse cx="207.0" cy="88.9" rx="0.9" ry="0.8" fill="#f59a23"/>
<rect x="248.75" y="48.74" width="1" height="1" fill="#a8a8a8"/>
<rect x="249.54" y="48.72" width="1" height="1" fill="#a8a8a8"/>
<rect x="251.50" y="48.70" width="1" height="1" fill="#a8a8a8"/>
<rect x="238.33" y="49.44" width="1" height="1" fill="#a8a8a8"/>
<rect x="265.46" y="49.48" width="1" height="1" fill="#a8a8a8"/>
<rect x="243.27" y="48.99" width="1" height="1" fill="#a8a8a8"/>
<rect x="244.74" y="48.90" width="1" height="1" fill="#a8a8a8"/>
<rect x="246.21" y="48.82" width="1" height="1" fill="#a8a8a8"/>
<rect x="292.68" y="55.83" width="1" height="1" fill="#a8a8a8"/>
<rect x="312.16" y="64.84" width="1" height="1" fill="#a8a8a8"/>
<rect x="321.49" y="70.79" width="1" height="1" fill="#a8a8a8"/>
<rect x="329.60" y="77.02" width="1" height="1" fill="#a8a8a8"/>
<rect x="339.85" y="86.68" width="1" height="1" fill="#a8a8a8"/>
<rect x="339.78" y="86.60" width="1" height="1" fill="#a8a8a8"/>
<rect x="341.43" y="88.38" width="1" height="1" fill="#a8a8a8"/>
<rect x="342.91" y="90.03" width="1" height="1" fill="#a8a8a8"/>
<rect x="349.95" y="98.86" width="1" height="1" fill="#a8a8a8"/>
<rect x="354.62" y="105.80" width="1" height="1" fill="#a8a8a8"/>
<rect x="358.26" y="112.05" width="1" height="1" fill="#a8a8a8"/>
<rect x="360.98" y="117.35" width="1" height="1" fill="#a8a8a8"/>
<rect x="364.24" y="124.73" width="1" height="1" fill="#a8a8a8"/>
<rect x="367.28" y="133.19" width="1" height="1" fill="#a8a8a8"/>
<rect x="369.50" y="141.06" width="1" height="1" fill="#a8a8a8"/>
<rect x="371.03" y="148.24" width="1" height="1" fill="#a8a8a8"/>
<rect x="372.28" y="156.80" width="1" height="1" fill="#a8a8a8"/>
<rect x="372.76" y="162.40" width="1" height="1" fill="#a8a8a8"/>
<rect x="372.97" y="172.73" width="1" height="1" fill="#a8a8a8"/>
<rect x="372.32" y="182.82" width="1" height="1" fill="#a8a8a8"/>
<rect x="370.92" y="192.39" width="1" height="1" fill="#a8a8a8"/>
<rect x="368.83" y="201.53" width="1" height="1" fill="#a8a8a8"/>
<rect x="368.34" y="203.31" width="1" height="1" fill="#a8a8a8"/>
<rect x="367.93" y="204.69" width="1" height="1" fill="#a8a8a8"/>
<rect x="365.50" y="211.99" width="1" height="1" fill="#a8a8a8"/>
<rect x="364.82" y="213.79" width="1" height="1" fill="#a8a8a8"/>
<rect x="365.80" y="211.16" width="1" height="1" fill="#a8a8a8"/>
<rect x="363.48" y="217.10" width="1" height="1" fill="#a8a8a8"/>
<rect x="360.47" y="223.70" width="1" height="1" fill="#a8a8a8"/>
<rect x="355.88" y="232.14" width="1" height="1" fill="#a8a8a8"/>
<rect x="350.21" y="240.77" width="1" height="1" fill="#a8a8a8"/>
<rect x="346.30" y="245.93" width="1" height="1" fill="#a8a8a8"/>
<rect x="341.01" y="252.08" width="1" height="1" fill="#a8a8a8"/>
<rect x="335.74" y="257.47" width="1" height="1" fill="#a8a8a8"/>
<rect x="329.14" y="263.36" width="1" height="1" fill="#a8a8a8"/>
<rect x="314.19" y="273.96" width="1" height="1" fill="#a8a8a8"/>
<rect x="299.44" y="281.51" width="1" height="1" fill="#a8a8a8"/>
<rect x="282.91" y="287.22" width="1" height="1" fill="#a8a8a8"/>
<rect x="283.99" y="286.92" width="1" height="1" fill="#a8a8a8"/>
<rect x="283.85" y="286.96" width="1" height="1" fill="#a8a8a8"/>
<rect x="280.20" y="287.91" width="1" height="1" fill="#a8a8a8"/>
<rect x="271.26" y="289.71" width="1" height="1" fill="#a8a8a8"/>
<rect x="254.14" y="291.28" width="1" height="1" fill="#a8a8a8"/>
<rect x="255.60" y="291.24" width="1" height="1" fill="#a8a8a8"/>
<rect x="258.70" y="291.10" width="1" height="1" fill="#a8a8a8"/>
<rect x="258.27" y="291.12" width="1" height="1" fill="#a8a8a8"/>
<rect x="239.39" y="290.67" width="1" height="1" fill="#a8a8a8"/>
<rect x="234.97" y="290.14" width="1" height="1" fill="#a8a8a8"/>
<rect x="234.89" y="290.13" width="1" height="1" fill="#a8a8a8"/>
<rect x="255.98" y="291.22" width="1" height="1" fill="#a8a8a8"/>
<rect x="281.45" y="287.59" width="1" height="1" fill="#a8a8a8"/>
<rect x="220.87" y="287.32" width="1" height="1" fill="#a8a8a8"/>
<rect x="220.71" y="287.27" width="1" height="1" fill="#a8a8a8"/>
<rect x="205.47" y="282.15" width="1" height="1" fill="#a8a8a8"/>
<rect x="187.05" y="272.64" width="1" height="1" fill="#a8a8a8"/>
<rect x="177.09" y="265.64" width="1" height="1" fill="#a8a8a8"/>
<rect x="167.39" y="257.21" width="1" height="1" fill="#a8a8a8"/>
<rect x="159.16" y="248.42" width="1" height="1" fill="#a8a8a8"/>
<rect x="150.94" y="237.53" width="1" height="1" fill="#a8a8a8"/>
<rect x="144.55" y="226.85" width="1" height="1" fill="#a8a8a8"/>
<rect x="141.55" y="220.81" width="1" height="1" fill="#a8a8a8"/>
<rect x="139.04" y="214.95" width="1" height="1" fill="#a8a8a8"/>
<rect x="136.85" y="209.03" width="1" height="1" fill="#a8a8a8"/>
<rect x="133.84" y="198.66" width="1" height="1" fill="#a8a8a8"/>
<rect x="134.46" y="201.11" width="1" height="1" fill="#a8a8a8"/>
<rect x="132.54" y="192.68" width="1" height="1" fill="#a8a8a8"/>
<rect x="131.16" y="183.57" width="1" height="1" fill="#a8a8a8"/>
<rect x="130.47" y="174.18" width="1" height="1" fill="#a8a8a8"/>
<rect x="130.48" y="165.72" width="1" height="1" fill="#a8a8a8"/>
<rect x="130.54" y="164.08" width="1" height="1" fill="#a8a8a8"/>
<rect x="130.71" y="161.40" width="1" height="1" fill="#a8a8a8"/>
<rect x="131.27" y="155.51" width="1" height="1" fill="#a8a8a8"/>
<rect x="133.00" y="145.04" width="1" height="1" fill="#a8a8a8"/>
<rect x="132.75" y="146.25" width="1" height="1" fill="#a8a8a8"/>
<rect x="133.26" y="143.82" width="1" height="1" fill="#a8a8a8"/>
<rect x="133.95" y="140.88" width="1" height="1" fill="#a8a8a8"/>
<rect x="135.26" y="135.99" width="1" height="1" fill="#a8a8a8"/>
<rect x="137.53" y="129.02" width="1" height="1" fill="#a8a8a8"/>
<rect x="140.54" y="121.44" width="1" height="1" fill="#a8a8a8"/>
<rect x="145.26" y="111.83" width="1" height="1" fill="#a8a8a8"/>
<rect x="143.78" y="114.63" width="1" height="1" fill="#a8a8a8"/>
<rect x="151.00" y="102.38" width="1" height="1" fill="#a8a8a8"/>
<rect x="155.26" y="96.43" width="1" height="1" fill="#a8a8a8"/>
<rect x="159.57" y="91.10" width="1" height="1" fill="#a8a8a8"/>
<rect x="170.35" y="80.03" width="1" height="1" fill="#a8a8a8"/>
<rect x="179.21" y="72.74" width="1" height="1" fill="#a8a8a8"/>
<rect x="179.20" y="72.75" width="1" height="1" fill="#a8a8a8"/>
<rect x="186.68" y="67.60" width="1" height="1" fill="#a8a8a8"/>
<rect x="188.00" y="66.77" width="1" height="1" fill="#a8a8a8"/>
<rect x="180.14" y="72.06" width="1" height="1" fill="#a8a8a8"/>
<rect x="203.89" y="58.52" width="1" height="1" fill="#a8a8a8"/>
<g stroke-width="0.8" stroke-linecap="round" fill="none">
<line x1="248.4" y1="12.6" x2="248.5" y2="18.6" stroke="#3a62e2"/>
<line x1="249.5" y1="24.6" x2="250.0" y2="47.0" stroke="#3a62e2"/>
<line x1="252.0" y1="37.0" x2="252.0" y2="47.0" stroke="#3a62e2"/>
<line x1="235.7" y1="19.5" x2="238.5" y2="47.0" stroke="#3a62e2"/>
<line x1="269.7" y1="19.5" x2="266.3" y2="47.0" stroke="#3a62e2"/>
<line x1="243.6" y1="36.8" x2="243.6" y2="47.0" stroke="#f03838"/>
<line x1="245.1" y1="36.8" x2="245.1" y2="47.0" stroke="#f03838"/>
<line x1="246.6" y1="36.8" x2="246.6" y2="47.0" stroke="#f03838"/>
<line x1="298.1" y1="44.7" x2="294.2" y2="53.5" stroke="#3a62e2"/>
<line x1="318.5" y1="54.5" x2="314.0" y2="63.0" stroke="#3a62e2"/>
<line x1="330.0" y1="61.0" x2="323.6" y2="69.0" stroke="#3a62e2"/>
<line x1="339.0" y1="67.6" x2="331.8" y2="75.5" stroke="#f03838"/>
<line x1="372.7" y1="57.3" x2="349.0" y2="79.0" stroke="#3a62e2"/>
<line x1="357.3" y1="75.5" x2="342.4" y2="85.1" stroke="#3a62e2"/>
<line x1="357.3" y1="77.2" x2="344.0" y2="87.0" stroke="#3a62e2"/>
<line x1="355.5" y1="83.6" x2="345.5" y2="88.7" stroke="#3a62e2"/>
<line x1="361.8" y1="90.9" x2="353.3" y2="97.3" stroke="#3a62e2"/>
<line x1="366.4" y1="99.0" x2="358.0" y2="104.5" stroke="#3a62e2"/>
<line x1="370.4" y1="105.5" x2="361.8" y2="110.9" stroke="#3a62e2"/>
<line x1="373.6" y1="111.8" x2="364.5" y2="116.4" stroke="#3a62e2"/>
<line x1="376.9" y1="120.0" x2="367.3" y2="124.2" stroke="#3a62e2"/>
<line x1="380.9" y1="129.1" x2="370.9" y2="132.7" stroke="#3a62e2"/>
<line x1="382.7" y1="138.2" x2="372.7" y2="140.9" stroke="#3a62e2"/>
<line x1="384.5" y1="146.9" x2="374.5" y2="148.2" stroke="#3a62e2"/>
<line x1="386.4" y1="156.0" x2="376.4" y2="156.9" stroke="#3a62e2"/>
<line x1="386.4" y1="162.7" x2="376.4" y2="162.7" stroke="#3a62e2"/>
<line x1="386.9" y1="174.5" x2="376.4" y2="173.3" stroke="#3a62e2"/>
<line x1="385.5" y1="185.5" x2="375.5" y2="183.6" stroke="#3a62e2"/>
<line x1="384.5" y1="195.5" x2="373.6" y2="193.3" stroke="#3a62e2"/>
<line x1="382.7" y1="205.5" x2="371.8" y2="202.7" stroke="#3a62e2"/>
<line x1="381.8" y1="207.4" x2="370.9" y2="204.4" stroke="#3a62e2"/>
<line x1="381.5" y1="210.2" x2="371.8" y2="206.2" stroke="#3a62e2"/>
<line x1="379.0" y1="218.0" x2="369.0" y2="213.6" stroke="#3a62e2"/>
<line x1="378.0" y1="219.6" x2="368.2" y2="215.4" stroke="#3a62e2"/>
<line x1="395.5" y1="223.8" x2="380.0" y2="216.6" stroke="#3a62e2"/>
<line x1="376.4" y1="224.5" x2="367.3" y2="219.0" stroke="#3a62e2"/>
<line x1="373.3" y1="231.0" x2="363.6" y2="225.5" stroke="#3a62e2"/>
<line x1="367.6" y1="239.6" x2="359.0" y2="234.2" stroke="#f03838"/>
<line x1="361.8" y1="250.0" x2="352.7" y2="242.7" stroke="#3a62e2"/>
<line x1="357.3" y1="255.5" x2="349.0" y2="248.2" stroke="#3a62e2"/>
<line x1="351.5" y1="262.7" x2="343.6" y2="254.5" stroke="#3a62e2"/>
<line x1="346.0" y1="269.0" x2="338.2" y2="260.0" stroke="#3a62e2"/>
<line x1="337.6" y1="274.5" x2="331.0" y2="265.5" stroke="#f03838"/>
<line x1="321.8" y1="287.3" x2="316.4" y2="277.3" stroke="#3a62e2"/>
<line x1="305.5" y1="294.8" x2="301.0" y2="284.5" stroke="#3a62e2"/>
<line x1="287.8" y1="301.6" x2="284.2" y2="290.7" stroke="#3a62e2"/>
<line x1="289.0" y1="301.6" x2="285.4" y2="290.7" stroke="#3a62e2"/>
<line x1="294.9" y1="324.8" x2="285.6" y2="292.0" stroke="#3a62e2"/>
<line x1="290.7" y1="331.8" x2="286.4" y2="312.0" stroke="#3a62e2"/>
<line x1="273.7" y1="302.7" x2="272.2" y2="292.9" stroke="#3a62e2"/>
<line x1="254.7" y1="304.9" x2="254.7" y2="295.0" stroke="#3a62e2"/>
<line x1="256.2" y1="304.9" x2="256.2" y2="295.0" stroke="#3a62e2"/>
<line x1="259.8" y1="304.9" x2="259.4" y2="295.0" stroke="#3a62e2"/>
<line x1="260.6" y1="324.3" x2="259.9" y2="312.5" stroke="#3a62e2"/>
<line x1="238.4" y1="304.9" x2="239.5" y2="295.0" stroke="#3a62e2"/>
<line x1="233.6" y1="303.8" x2="235.0" y2="294.0" stroke="#f03838"/>
<line x1="231.6" y1="317.0" x2="232.4" y2="312.0" stroke="#f03838"/>
<line x1="257.2" y1="317.0" x2="257.2" y2="312.0" stroke="#f03838"/>
<line x1="289.0" y1="317.0" x2="288.0" y2="312.0" stroke="#f03838"/>
<line x1="218.7" y1="300.6" x2="220.9" y2="289.6" stroke="#3a62e2"/>
<line x1="213.8" y1="325.0" x2="215.6" y2="309.0" stroke="#3a62e2"/>
<line x1="200.7" y1="296.0" x2="205.0" y2="285.0" stroke="#3a62e2"/>
<line x1="178.9" y1="285.0" x2="185.5" y2="276.4" stroke="#3a62e2"/>
<line x1="168.4" y1="277.0" x2="175.2" y2="269.2" stroke="#f03838"/>
<line x1="158.2" y1="267.6" x2="164.7" y2="261.0" stroke="#3a62e2"/>
<line x1="148.4" y1="257.1" x2="157.8" y2="250.5" stroke="#3a62e2"/>
<line x1="140.4" y1="245.1" x2="149.1" y2="239.6" stroke="#3a62e2"/>
<line x1="130.6" y1="232.0" x2="142.5" y2="228.7" stroke="#3a62e2"/>
<line x1="128.4" y1="224.8" x2="142.5" y2="221.1" stroke="#3a62e2"/>
<line x1="125.5" y1="220.0" x2="136.4" y2="216.7" stroke="#3a62e2"/>
<line x1="123.3" y1="213.5" x2="134.2" y2="210.6" stroke="#3a62e2"/>
<line x1="120.0" y1="202.5" x2="130.9" y2="200.0" stroke="#3a62e2"/>
<line x1="121.2" y1="204.7" x2="132.0" y2="202.4" stroke="#3a62e2"/>
<line x1="119.3" y1="196.0" x2="129.8" y2="193.8" stroke="#3a62e2"/>
<line x1="118.5" y1="185.1" x2="128.7" y2="184.4" stroke="#3a62e2"/>
<line x1="117.8" y1="175.3" x2="127.6" y2="174.8" stroke="#3a62e2"/>
<line x1="117.8" y1="166.5" x2="127.6" y2="166.1" stroke="#3a62e2"/>
<line x1="99.3" y1="164.8" x2="127.4" y2="164.4" stroke="#3a62e2"/>
<line x1="81.5" y1="158.9" x2="128.4" y2="161.7" stroke="#3a62e2"/>
<line x1="119.0" y1="154.5" x2="128.4" y2="155.6" stroke="#3a62e2"/>
<line x1="120.3" y1="144.3" x2="129.5" y2="144.7" stroke="#3a62e2"/>
<line x1="83.6" y1="141.0" x2="130.5" y2="146.2" stroke="#3a62e2"/>
<line x1="102.2" y1="139.3" x2="130.5" y2="143.6" stroke="#3a62e2"/>
<line x1="91.9" y1="131.6" x2="130.5" y2="140.4" stroke="#3a62e2"/>
<line x1="122.9" y1="132.3" x2="132.7" y2="135.6" stroke="#3a62e2"/>
<line x1="125.1" y1="124.4" x2="134.9" y2="128.4" stroke="#3a62e2"/>
<line x1="128.4" y1="116.4" x2="138.2" y2="120.7" stroke="#3a62e2"/>
<line x1="133.0" y1="105.2" x2="142.6" y2="110.6" stroke="#3a62e2"/>
<line x1="115.6" y1="101.0" x2="141.1" y2="113.5" stroke="#3a62e2"/>
<line x1="140.4" y1="95.3" x2="148.7" y2="101.0" stroke="#3a62e2"/>
<line x1="145.0" y1="89.0" x2="153.1" y2="94.9" stroke="#3a62e2"/>
<line x1="149.8" y1="82.9" x2="156.8" y2="88.8" stroke="#3a62e2"/>
<line x1="161.6" y1="70.6" x2="168.2" y2="77.6" stroke="#3a62e2"/>
<line x1="171.5" y1="61.5" x2="177.0" y2="69.6" stroke="#3a62e2"/>
<line x1="164.9" y1="51.7" x2="176.9" y2="69.5" stroke="#3a62e2"/>
<line x1="176.9" y1="51.7" x2="185.6" y2="65.6" stroke="#3a62e2"/>
<line x1="178.4" y1="51.2" x2="187.1" y2="65.0" stroke="#3a62e2"/>
<line x1="158.8" y1="25.5" x2="178.4" y2="69.5" stroke="#3a62e2"/>
<line x1="198.1" y1="46.6" x2="203.1" y2="56.0" stroke="#3a62e2"/>
</g>
<g class="m">
<text x="210.9" y="11.2" fill="#2a55dd" stroke="#2a55dd">hypothetical protein</text>
<text x="227.7" y="18.5" fill="#2a55dd" stroke="#2a55dd">gtfA</text>
<text x="263.0" y="18.4" fill="#2a55dd" stroke="#2a55dd">adhE</text>
<text x="245.1" y="23.8" fill="#2a55dd" stroke="#2a55dd">gyrA</text>
<text x="137.5" y="26.4" fill="#2a55dd" stroke="#2a55dd">spoIIE</text>
<text x="183.1" y="29.6" fill="#f03838" stroke="#f03838">Fengycin biosynthesis gene cluster</text>
<text x="164.2" y="35.8" fill="#f03838" stroke="#f03838">Non-ribosmal peptide synthesis gene cluster</text>
<text x="298.5" y="43.5" fill="#2a55dd" stroke="#2a55dd">ltaS1_1</text>
<text x="184.6" y="46.3" fill="#2a55dd" stroke="#2a55dd">leuS</text>
<text x="166.0" y="50.8" fill="#2a55dd" stroke="#2a55dd">mfd</text>
<text x="150.6" y="51.5" fill="#2a55dd" stroke="#2a55dd">rpoB</text>
<text x="319.2" y="53.6" fill="#2a55dd" stroke="#2a55dd">vpr</text>
<text x="373.3" y="56.9" fill="#2a55dd" stroke="#2a55dd">lytD</text>
<text x="329.8" y="60.6" fill="#2a55dd" stroke="#2a55dd">maeA_1</text>
<text x="157.3" y="62.2" fill="#2a55dd" stroke="#2a55dd">rpoC</text>
<text x="338.7" y="66.5" fill="#f03838" stroke="#f03838">Bacillibactin biosynthesis gene cluster</text>
<text x="147.0" y="70.5" fill="#2a55dd" stroke="#2a55dd">mprF</text>
<text x="357.7" y="76.4" fill="#2a55dd" stroke="#2a55dd">carB_1</text>
<text x="127.6" y="83.0" fill="#2a55dd" stroke="#2a55dd">ptpH_2</text>
<text x="356.0" y="84.7" fill="#2a55dd" stroke="#2a55dd">bpr_1</text>
<text x="130.4" y="89.3" fill="#2a55dd" stroke="#2a55dd">pqpH</text>
<text x="361.8" y="91.6" fill="#2a55dd" stroke="#2a55dd">pycA</text>
<text x="125.2" y="95.5" fill="#2a55dd" stroke="#2a55dd">amyX</text>
<text x="366.4" y="98.9" fill="#2a55dd" stroke="#2a55dd">fruA_1</text>
<text x="100.7" y="101.7" fill="#2a55dd" stroke="#2a55dd">polA</text>
<text x="370.4" y="105.6" fill="#2a55dd" stroke="#2a55dd">pbpH_1</text>
<text x="118.7" y="105.7" fill="#2a55dd" stroke="#2a55dd">dnaE</text>
<text x="374.2" y="112.0" fill="#2a55dd" stroke="#2a55dd">clpE</text>
<text x="113.8" y="117.2" fill="#2a55dd" stroke="#2a55dd">pheT</text>
<text x="376.9" y="120.0" fill="#2a55dd" stroke="#2a55dd">metE_2</text>
<text x="110.4" y="125.5" fill="#2a55dd" stroke="#2a55dd">valS</text>
<text x="380.9" y="129.8" fill="#2a55dd" stroke="#2a55dd">yesS_1</text>
<text x="103.9" y="133.2" fill="#2a55dd" stroke="#2a55dd">secDF</text>
<text x="76.7" y="133.6" fill="#2a55dd" stroke="#2a55dd">alaS</text>
<text x="383.1" y="140.2" fill="#2a55dd" stroke="#2a55dd">xkdG</text>
<text x="87.6" y="140.8" fill="#2a55dd" stroke="#2a55dd">wprA</text>
<text x="68.4" y="143.0" fill="#2a55dd" stroke="#2a55dd">dgaR</text>
<text x="106.1" y="146.3" fill="#2a55dd" stroke="#2a55dd">cypB</text>
<text x="384.9" y="148.9" fill="#2a55dd" stroke="#2a55dd">yjcD</text>
<text x="104.4" y="156.1" fill="#2a55dd" stroke="#2a55dd">lytB</text>
<text x="386.4" y="157.5" fill="#2a55dd" stroke="#2a55dd">appA</text>
<text x="66.6" y="160.9" fill="#2a55dd" stroke="#2a55dd">secA</text>
<text x="386.9" y="164.7" fill="#2a55dd" stroke="#2a55dd">metH</text>
<text x="84.7" y="166.6" fill="#2a55dd" stroke="#2a55dd">uvrA</text>
<text x="103.2" y="168.7" fill="#2a55dd" stroke="#2a55dd">cpdA</text>
<text x="386.9" y="176.5" fill="#2a55dd" stroke="#2a55dd">smc_1</text>
<text x="103.0" y="177.7" fill="#2a55dd" stroke="#2a55dd">pglF</text>
<text x="107.6" y="187.7" fill="#2a55dd" stroke="#2a55dd">rnr</text>
<text x="385.8" y="188.9" fill="#2a55dd" stroke="#2a55dd">polC</text>
<text x="385.1" y="197.8" fill="#2a55dd" stroke="#2a55dd">mutS</text>
<text x="98.2" y="198.0" fill="#2a55dd" stroke="#2a55dd">rphC_2</text>
<text x="99.3" y="204.5" fill="#2a55dd" stroke="#2a55dd">malL_2</text>
<text x="382.7" y="207.3" fill="#2a55dd" stroke="#2a55dd">apc3_1</text>
<text x="107.6" y="213.3" fill="#2a55dd" stroke="#2a55dd">guaA</text>
<text x="381.8" y="214.0" fill="#2a55dd" stroke="#2a55dd">ureC</text>
<text x="110.2" y="220.5" fill="#2a55dd" stroke="#2a55dd">swrC</text>
<text x="379.6" y="221.1" fill="#2a55dd" stroke="#2a55dd">tkt</text>
<text x="113.0" y="226.7" fill="#2a55dd" stroke="#2a55dd">yofA</text>
<text x="376.7" y="228.0" fill="#2a55dd" stroke="#2a55dd">narG</text>
<text x="396.0" y="229.6" fill="#2a55dd" stroke="#2a55dd">citB</text>
<text x="105.0" y="232.8" fill="#2a55dd" stroke="#2a55dd">ltaS2_2</text>
<text x="373.3" y="235.1" fill="#2a55dd" stroke="#2a55dd">manR</text>
<text x="111.6" y="240.5" fill="#2a55dd" stroke="#2a55dd">endo I</text>
<text x="368.2" y="245.3" fill="#f03838" stroke="#f03838">Fengycin biosynthesis gene cluster</text>
<text x="121.8" y="251.5" fill="#2a55dd" stroke="#2a55dd">blaR1</text>
<text x="362.2" y="254.7" fill="#2a55dd" stroke="#2a55dd">smc_2</text>
<text x="357.1" y="260.5" fill="#2a55dd" stroke="#2a55dd">Lytic chitin monooxygenase</text>
<text x="67.9" y="263.0" fill="#2a55dd" stroke="#2a55dd">Cellobiose 2-epimerase</text>
<text x="351.8" y="266.5" fill="#2a55dd" stroke="#2a55dd">nasD</text>
<text x="143.0" y="272.5" fill="#2a55dd" stroke="#2a55dd">apaH</text>
<text x="346.0" y="273.3" fill="#2a55dd" stroke="#2a55dd">bglY</text>
<text x="338.2" y="280.2" fill="#f03838" stroke="#f03838">Lichenysin biosynthesis gene cluster</text>
<text x="36.5" y="282.5" fill="#f03838" stroke="#f03838">Bacitracin biosynthesis gene cluster</text>
<text x="157.5" y="290.4" fill="#2a55dd" stroke="#2a55dd">norR_2</text>
<text x="321.8" y="292.0" fill="#2a55dd" stroke="#2a55dd">yhcR</text>
<text x="305.0" y="300.3" fill="#2a55dd" stroke="#2a55dd">yhaN</text>
<text x="187.2" y="301.3" fill="#2a55dd" stroke="#2a55dd">fadN</text>
<text x="209.9" y="306.8" fill="#2a55dd" stroke="#2a55dd">eccC</text>
<text x="287.5" y="306.5" fill="#2a55dd" stroke="#2a55dd">addA</text>
<text x="264.5" y="310.2" fill="#2a55dd" stroke="#2a55dd">era_1</text>
<text x="231.2" y="310.8" fill="#2a55dd" stroke="#2a55dd">gltA</text>
<text x="247.5" y="311.3" fill="#2a55dd" stroke="#2a55dd">atzA</text>
<text x="151.6" y="321.6" fill="#f03838" stroke="#f03838">Non-ribosmal peptide synthesis gene cluster</text>
<text x="254.3" y="329.2" fill="#2a55dd" stroke="#2a55dd">odhA</text>
<text x="294.7" y="329.8" fill="#2a55dd" stroke="#2a55dd">addB</text>
<text x="204.7" y="330.4" fill="#2a55dd" stroke="#2a55dd">yueB</text>
<text x="250.4" y="335.9" fill="#2a55dd" stroke="#2a55dd">pigC</text>
<text x="285.3" y="336.8" fill="#2a55dd" stroke="#2a55dd">smc_3</text>
</g>
<rect x="421.5" y="79.70" width="8.1" height="7.6" fill="#f58220"/>
<text class="s" x="431.6" y="86.30" font-size="7.9" fill="#111">CARD</text>
<rect x="421.5" y="91.55" width="8.1" height="7.6" fill="#f01414"/>
<text class="s" x="431.6" y="98.15" font-size="7.9" fill="#111">Biosynthetic gene</text>
<rect x="421.5" y="103.40" width="8.1" height="7.6" fill="#f070e0"/>
<text class="s" x="431.6" y="110.00" font-size="7.9" fill="#111">Additional biosynthetic gene</text>
<rect x="421.5" y="115.25" width="8.1" height="7.6" fill="#22cc22"/>
<text class="s" x="431.6" y="121.85" font-size="7.9" fill="#111">Regulatory of biosynthetic gene</text>
<rect x="421.5" y="127.10" width="8.1" height="7.6" fill="#22aadd"/>
<text class="s" x="431.6" y="133.70" font-size="7.9" fill="#111">Transporter of biosynthetic gene</text>
<rect x="421.5" y="138.95" width="8.1" height="7.6" fill="#000"/>
<text class="s" x="431.6" y="145.55" font-size="7.9" fill="#111">GC Content</text>
<rect x="421.5" y="150.80" width="8.1" height="7.6" fill="#079007"/>
<text class="s" x="431.6" y="157.40" font-size="7.9" fill="#111">GC Skew+</text>
<rect x="421.5" y="162.65" width="8.1" height="7.6" fill="#aa00aa"/>
<text class="s" x="431.6" y="169.25" font-size="7.9" fill="#111">GC Skew-</text>
<rect x="421.5" y="174.50" width="8.1" height="7.6" fill="#1540ea"/>
<text class="s" x="431.6" y="181.10" font-size="7.9" fill="#111">CDS</text>
<rect x="421.5" y="186.35" width="8.1" height="7.6" fill="#f0127a"/>
<text class="s" x="431.6" y="192.95" font-size="7.9" fill="#111">tRNA</text>
<rect x="421.5" y="198.20" width="8.1" height="7.6" fill="#22ee22"/>
<text class="s" x="431.6" y="204.80" font-size="7.9" fill="#111">rRNA</text>
<rect x="421.5" y="210.05" width="8.1" height="7.6" fill="#f8c41c"/>
<text class="s" x="431.6" y="216.65" font-size="7.9" fill="#111">tmRNA</text>
<text class="r" x="9.5" y="354.0" font-size="15.5">(b)</text>
<text class="rb" x="39.8" y="383.6" font-size="12.2" textLength="104.2" lengthAdjust="spacingAndGlyphs" fill="#111">Subsystem coverage</text>
<rect x="74.3" y="394.4" width="26.9" height="42.5" fill="#c8efcf" stroke="#334" stroke-width="0.7"/>
<rect x="74.3" y="436.9" width="26.9" height="102.7" fill="#f1c200" stroke="#334" stroke-width="0.7"/>
<text class="rb" x="88.2" y="418.2" font-size="10.5" text-anchor="middle" fill="#111">28%</text>
<text class="rb" x="88.2" y="492.0" font-size="10.5" text-anchor="middle" fill="#111">72%</text>
<text class="rb" x="160.8" y="372.0" font-size="12.2" textLength="168" lengthAdjust="spacingAndGlyphs" fill="#111">Subsystem category distribution</text>
<g stroke="#7a7a7a" stroke-width="0.35" stroke-linejoin="round">
<path d="M241.50 379.80A87.4 87.4 0 0 1 322.06 433.31L281.78 450.26A43.7 43.7 0 0 0 241.50 423.50Z" fill="#fddcb8"/>
<path d="M322.06 433.31A87.4 87.4 0 0 1 307.10 524.96L274.30 496.08A43.7 43.7 0 0 0 281.78 450.26Z" fill="#c3e0f8"/>
<path d="M307.10 524.96A87.4 87.4 0 0 1 255.06 553.54L248.28 510.37A43.7 43.7 0 0 0 274.30 496.08Z" fill="#c6c00c"/>
<path d="M255.06 553.54A87.4 87.4 0 0 1 212.25 549.56L226.87 508.38A43.7 43.7 0 0 0 248.28 510.37Z" fill="#028002"/>
<path d="M212.25 549.56A87.4 87.4 0 0 1 186.25 534.92L213.88 501.06A43.7 43.7 0 0 0 226.87 508.38Z" fill="#12a060"/>
<path d="M186.25 534.92A87.4 87.4 0 0 1 167.01 512.92L204.25 490.06A43.7 43.7 0 0 0 213.88 501.06Z" fill="#087c9a"/>
<path d="M167.01 512.92A87.4 87.4 0 0 1 159.01 496.09L200.26 481.65A43.7 43.7 0 0 0 204.25 490.06Z" fill="#0a9cba"/>
<path d="M159.01 496.09A87.4 87.4 0 0 1 154.84 478.56L198.17 472.88A43.7 43.7 0 0 0 200.26 481.65Z" fill="#0404cc"/>
<path d="M154.84 478.56A87.4 87.4 0 0 1 154.29 461.47L197.89 464.33A43.7 43.7 0 0 0 198.17 472.88Z" fill="#8a04a8"/>
<path d="M154.29 461.47A87.4 87.4 0 0 1 156.40 447.26L198.95 457.23A43.7 43.7 0 0 0 197.89 464.33Z" fill="#f4046c"/>
<path d="M156.40 447.26A87.4 87.4 0 0 1 160.82 433.59L201.16 450.40A43.7 43.7 0 0 0 198.95 457.23Z" fill="#e9b6b0"/>
<path d="M160.82 433.59A87.4 87.4 0 0 1 166.77 421.88L204.14 444.54A43.7 43.7 0 0 0 201.16 450.40Z" fill="#d6d996"/>
<path d="M166.77 421.88A87.4 87.4 0 0 1 174.41 411.18L207.96 439.19A43.7 43.7 0 0 0 204.14 444.54Z" fill="#fdd23c"/>
<path d="M174.41 411.18A87.4 87.4 0 0 1 183.34 401.96L212.42 434.58A43.7 43.7 0 0 0 207.96 439.19Z" fill="#b9e5cd"/>
<path d="M183.34 401.96A87.4 87.4 0 0 1 193.52 394.14L217.51 430.67A43.7 43.7 0 0 0 212.42 434.58Z" fill="#fdf0c2"/>
<path d="M193.52 394.14A87.4 87.4 0 0 1 204.47 388.03L222.98 427.62A43.7 43.7 0 0 0 217.51 430.67Z" fill="#6aa0d6"/>
<path d="M204.47 388.03A87.4 87.4 0 0 1 212.39 384.79L226.95 425.99A43.7 43.7 0 0 0 222.98 427.62Z" fill="#b272c8"/>
<path d="M212.39 384.79A87.4 87.4 0 0 1 219.11 382.72L230.31 424.96A43.7 43.7 0 0 0 226.95 425.99Z" fill="#fbba74"/>
<path d="M219.11 382.72A87.4 87.4 0 0 1 225.98 381.19L233.74 424.19A43.7 43.7 0 0 0 230.31 424.96Z" fill="#fcdcdc"/>
<path d="M225.98 381.19A87.4 87.4 0 0 1 229.91 380.57L235.70 423.89A43.7 43.7 0 0 0 233.74 424.19Z" fill="#bcdcf8"/>
<path d="M229.91 380.57A87.4 87.4 0 0 1 233.25 380.19L237.38 423.70A43.7 43.7 0 0 0 235.70 423.89Z" fill="#f8c0f0"/>
<path d="M233.25 380.19A87.4 87.4 0 0 1 236.00 379.97L238.75 423.59A43.7 43.7 0 0 0 237.38 423.70Z" fill="#84ead2"/>
<path d="M236.00 379.97A87.4 87.4 0 0 1 238.14 379.86L239.82 423.53A43.7 43.7 0 0 0 238.75 423.59Z" fill="#f8f884"/>
<path d="M238.14 379.86A87.4 87.4 0 0 1 239.66 379.82L240.58 423.51A43.7 43.7 0 0 0 239.82 423.53Z" fill="#f0a2e8"/>
<path d="M239.66 379.82A87.4 87.4 0 0 1 240.89 379.80L241.19 423.50A43.7 43.7 0 0 0 240.58 423.51Z" fill="#8484f0"/>
<path d="M240.89 379.80A87.4 87.4 0 0 1 241.50 379.80L241.50 423.50A43.7 43.7 0 0 0 241.19 423.50Z" fill="#f80808"/>
</g>
<text class="rb" x="241.5" y="463.0" font-size="11" text-anchor="middle" fill="#111">Feature counts</text>
<text class="rb" x="241.5" y="476.7" font-size="11" text-anchor="middle" fill="#111">= 1795</text>
<text class="rb" x="346.4" y="355.2" font-size="12.3" textLength="133" lengthAdjust="spacingAndGlyphs" fill="#111">Subsystem feature counts</text>
<rect x="347.2" y="363.80" width="8.4" height="6.4" fill="#fddcb8" stroke="#b0b0b0" stroke-width="0.35"/>
<text class="r" x="360" y="369.50" font-size="7.63" fill="#1a1a1a">335 Amino Acids and Derivatives</text>
<rect x="347.2" y="372.40" width="8.4" height="6.4" fill="#c3e0f8" stroke="#b0b0b0" stroke-width="0.35"/>
<text class="r" x="360" y="378.10" font-size="7.63" fill="#1a1a1a">320 Carbohydrates</text>
<rect x="347.2" y="381.00" width="8.4" height="6.4" fill="#c6c00c" stroke="#b0b0b0" stroke-width="0.35"/>
<text class="r" x="360" y="386.70" font-size="7.63" fill="#1a1a1a">198 Protein Metabolism</text>
<rect x="347.2" y="389.60" width="8.4" height="6.4" fill="#028002" stroke="#b0b0b0" stroke-width="0.35"/>
<text class="r" x="360" y="395.30" font-size="7.63" fill="#1a1a1a">142 Cofactors, Vitamins, Prosthetic Groups, Pigments</text>
<rect x="347.2" y="398.20" width="8.4" height="6.4" fill="#12a060" stroke="#b0b0b0" stroke-width="0.35"/>
<text class="r" x="360" y="403.90" font-size="7.63" fill="#1a1a1a">98 Dormancy and Sporulation</text>
<rect x="347.2" y="406.80" width="8.4" height="6.4" fill="#087c9a" stroke="#b0b0b0" stroke-width="0.35"/>
<text class="r" x="360" y="412.50" font-size="7.63" fill="#1a1a1a">96 Nucleosides and Nucleotides</text>
<rect x="347.2" y="415.40" width="8.4" height="6.4" fill="#0a9cba" stroke="#b0b0b0" stroke-width="0.35"/>
<text class="r" x="360" y="421.10" font-size="7.63" fill="#1a1a1a">61 Cell Wall and Capsule</text>
<rect x="347.2" y="424.00" width="8.4" height="6.4" fill="#0404cc" stroke="#b0b0b0" stroke-width="0.35"/>
<text class="r" x="360" y="429.70" font-size="7.63" fill="#1a1a1a">59 DNA Metabolism</text>
<rect x="347.2" y="432.60" width="8.4" height="6.4" fill="#8a04a8" stroke="#b0b0b0" stroke-width="0.35"/>
<text class="r" x="360" y="438.30" font-size="7.63" fill="#1a1a1a">56 RNA Metabolism</text>
<rect x="347.2" y="441.20" width="8.4" height="6.4" fill="#f4046c" stroke="#b0b0b0" stroke-width="0.35"/>
<text class="r" x="360" y="446.90" font-size="7.63" fill="#1a1a1a">47 Fatty Acids, Lipids, and Isoprenoids</text>
<rect x="347.2" y="449.80" width="8.4" height="6.4" fill="#e9b6b0" stroke="#b0b0b0" stroke-width="0.35"/>
<text class="r" x="360" y="455.50" font-size="7.63" fill="#1a1a1a">47 Iron acquisition and metabolism</text>
<rect x="347.2" y="458.40" width="8.4" height="6.4" fill="#d6d996" stroke="#b0b0b0" stroke-width="0.35"/>
<text class="r" x="360" y="464.10" font-size="7.63" fill="#1a1a1a">43 Motility and Chemotaxis</text>
<rect x="347.2" y="467.00" width="8.4" height="6.4" fill="#fdd23c" stroke="#b0b0b0" stroke-width="0.35"/>
<text class="r" x="360" y="472.70" font-size="7.63" fill="#1a1a1a">43 Membrane Transport</text>
<rect x="347.2" y="475.60" width="8.4" height="6.4" fill="#b9e5cd" stroke="#b0b0b0" stroke-width="0.35"/>
<text class="r" x="360" y="481.30" font-size="7.63" fill="#1a1a1a">42 Respiration</text>
<rect x="347.2" y="484.20" width="8.4" height="6.4" fill="#fdf0c2" stroke="#b0b0b0" stroke-width="0.35"/>
<text class="r" x="360" y="489.90" font-size="7.63" fill="#1a1a1a">42 Virulence, Disease and Defense</text>
<rect x="347.2" y="492.80" width="8.4" height="6.4" fill="#6aa0d6" stroke="#b0b0b0" stroke-width="0.35"/>
<text class="r" x="360" y="498.50" font-size="7.63" fill="#1a1a1a">41 Stress Response</text>
<rect x="347.2" y="501.40" width="8.4" height="6.4" fill="#b272c8" stroke="#b0b0b0" stroke-width="0.35"/>
<text class="r" x="360" y="507.10" font-size="7.63" fill="#1a1a1a">28 Miscellaneous</text>
<rect x="347.2" y="510.00" width="8.4" height="6.4" fill="#fbba74" stroke="#b0b0b0" stroke-width="0.35"/>
<text class="r" x="360" y="515.70" font-size="7.63" fill="#1a1a1a">23 Nitrogen Metabolism</text>
<rect x="347.2" y="518.60" width="8.4" height="6.4" fill="#fcdcdc" stroke="#b0b0b0" stroke-width="0.35"/>
<text class="r" x="360" y="524.30" font-size="7.63" fill="#1a1a1a">23 Regulation and Cell signaling</text>
<rect x="347.2" y="527.20" width="8.4" height="6.4" fill="#bcdcf8" stroke="#b0b0b0" stroke-width="0.35"/>
<text class="r" x="360" y="532.90" font-size="7.63" fill="#1a1a1a">13 Metabolism of Aromatic Compounds</text>
<rect x="347.2" y="535.80" width="8.4" height="6.4" fill="#f8c0f0" stroke="#b0b0b0" stroke-width="0.35"/>
<text class="r" x="360" y="541.50" font-size="7.63" fill="#1a1a1a">11 Phosphorus Metabolism</text>
<rect x="347.2" y="544.40" width="8.4" height="6.4" fill="#84ead2" stroke="#b0b0b0" stroke-width="0.35"/>
<text class="r" x="360" y="550.10" font-size="7.63" fill="#1a1a1a">9 Secondary Metabolism</text>
<rect x="347.2" y="553.00" width="8.4" height="6.4" fill="#f8f884" stroke="#b0b0b0" stroke-width="0.35"/>
<text class="r" x="360" y="558.70" font-size="7.63" fill="#1a1a1a">7 Sulfur Metabolism</text>
<rect x="347.2" y="561.60" width="8.4" height="6.4" fill="#f0a2e8" stroke="#b0b0b0" stroke-width="0.35"/>
<text class="r" x="360" y="567.30" font-size="7.63" fill="#1a1a1a">5 Potassium metabolism</text>
<rect x="347.2" y="570.20" width="8.4" height="6.4" fill="#8484f0" stroke="#b0b0b0" stroke-width="0.35"/>
<text class="r" x="360" y="575.90" font-size="7.63" fill="#1a1a1a">4 Cell Division and Cell Cycle</text>
<rect x="347.2" y="578.80" width="8.4" height="6.4" fill="#f80808" stroke="#b0b0b0" stroke-width="0.35"/>
<text class="r" x="360" y="584.50" font-size="7.63" fill="#1a1a1a">2 Phages, Prophages, Transposable elements, Plasmids</text>
<text class="r" x="12.2" y="607" font-size="15.5">(c)</text>
<g stroke="#666" stroke-width="0.6" fill="none" stroke-linecap="square">
<path d="M99.3 597.8H129.8"/>
<path d="M99.3 596.3V599.3"/>
<path d="M129.8 596.3V599.3"/>
<path d="M32.6 712.3H45.8"/>
<path d="M45.8 689.4V735.8"/>
<path d="M45.8 689.4H71.3"/>
<path d="M71.3 664.0V714.1"/>
<path d="M71.3 714.1H255.3"/>
<path d="M71.3 664.0H93.7"/>
<path d="M93.7 643.6V685.1"/>
<path d="M93.7 643.6H98.8"/>
<path d="M98.8 624.0V663.3"/>
<path d="M98.8 624.0H204.8"/>
<path d="M98.8 663.3H220.0"/>
<path d="M204.8 606.7V641.1"/>
<path d="M204.8 606.7H221.8"/>
<path d="M221.8 600.4V613.1"/>
<path d="M221.8 600.4H244.7"/>
<path d="M221.8 613.1H244.7"/>
<path d="M204.8 641.1H209.1"/>
<path d="M209.1 632.7V650.5"/>
<path d="M209.1 632.7H246.0"/>
<path d="M246.0 627.1V638.0"/>
<path d="M209.1 650.5H239.6"/>
<path d="M93.7 685.1H125.5"/>
<path d="M125.5 676.2V695.0"/>
<path d="M125.5 676.2H243.4"/>
<path d="M125.5 695.0H233.3"/>
<path d="M233.3 688.2V701.4"/>
<path d="M45.8 735.8H90.4"/>
<path d="M90.4 726.6V745.4"/>
<path d="M90.4 726.6H249.4"/>
<path d="M90.4 745.4H147.2"/>
<path d="M147.2 739.6V752.3"/>
<path d="M147.2 739.6H256.5"/>
<path d="M147.2 752.3H247.0"/>
</g>
<path d="M391.5 601H376.3M378.6 599.5L376 601L378.6 602.5" stroke="#111" stroke-width="0.9" fill="none"/>
<text class="s" x="113.8" y="613.6" font-size="5.3" text-anchor="middle" fill="#222">0.02</text>
<text class="s" x="214.9" y="603.6" font-size="5.3" text-anchor="middle" fill="#222">87</text>
<text class="s" x="196.4" y="620.7" font-size="5.3" text-anchor="middle" fill="#222">100</text>
<text class="s" x="238.9" y="628.6" font-size="5.3" text-anchor="middle" fill="#222">62</text>
<text class="s" x="201.4" y="650.2" font-size="5.3" text-anchor="middle" fill="#222">85</text>
<text class="s" x="92.1" y="640.5" font-size="5.3" text-anchor="middle" fill="#222">85</text>
<text class="s" x="87.0" y="661.4" font-size="5.3" text-anchor="middle" fill="#222">99</text>
<text class="s" x="63.1" y="685.8" font-size="5.3" text-anchor="middle" fill="#222">100</text>
<text class="s" x="118.9" y="694.0" font-size="5.3" text-anchor="middle" fill="#222">88</text>
<text class="s" x="226.9" y="703.7" font-size="5.3" text-anchor="middle" fill="#222">78</text>
<text class="s" x="82.0" y="744.9" font-size="5.3" text-anchor="middle" fill="#222">100</text>
<text class="s" x="139.1" y="754.3" font-size="5.3" text-anchor="middle" fill="#222">100</text>
<text class="s" x="247.6" y="603.7" font-size="8.12" fill="#111">Bacillus paralicheniformis NNS4-3</text>
<text class="s" x="247.6" y="615.8" font-size="8.12" fill="#111">Bacillus paralicheniformis KJ-16</text>
<text class="s" x="249.2" y="629.1" font-size="8.12" fill="#111">Bacillus licheniformis DSM13</text>
<text class="s" x="249.2" y="640.8" font-size="8.12" fill="#111">Bacillus licheniformis ATCC14580</text>
<text class="s" x="241.7" y="653.8" font-size="8.12" fill="#111">Bacillus haynesii NRRL B-41327</text>
<text class="s" x="223.1" y="666.5" font-size="8.12" fill="#111">Bacillus swezeyi NRRL B-41294</text>
<text class="s" x="247.0" y="679.1" font-size="8.12" fill="#111">Bacillus glycinifermentans GO-13</text>
<text class="s" x="236.8" y="691.8" font-size="8.12" fill="#111">Bacillus sonorensis KCTC13918</text>
<text class="s" x="236.8" y="704.2" font-size="8.12" fill="#111">Bacillus sonorensis NBRC101234</text>
<text class="s" x="259.4" y="717.2" font-size="8.12" fill="#111">Bacillus changyiensis CLL-3-40T</text>
<text class="s" x="252.6" y="729.5" font-size="8.12" fill="#111">Bacillus atrophaeus NBRC15539</text>
<text class="s" x="260.0" y="742.5" font-size="8.12" fill="#111">Bacillus stercoris D7XPN1</text>
<text class="s" x="250.1" y="754.9" font-size="8.12" fill="#111">Bacillus halotolerans ATCC25096</text>
</svg></body></html>
